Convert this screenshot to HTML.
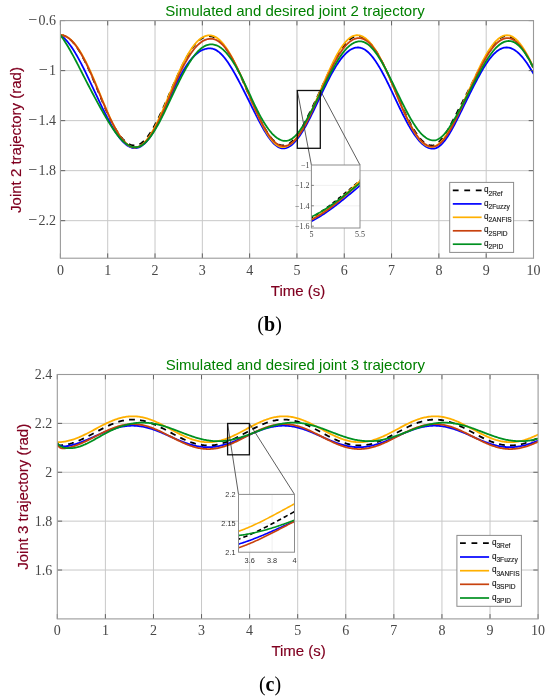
<!DOCTYPE html><html><head><meta charset="utf-8"><style>html,body{margin:0;padding:0;background:#fff;}svg{display:block;}.tk{font-family:"Liberation Serif",serif;font-size:14px;fill:#474747;}.tks{font-family:"Liberation Serif",serif;font-size:8px;fill:#404040;}.tkss{font-family:"Liberation Sans",sans-serif;font-size:7.3px;fill:#333;}.ttl{font-family:"Liberation Sans",sans-serif;font-size:15px;fill:#008000;}.lbl{font-family:"Liberation Sans",sans-serif;font-size:15px;fill:#800020;stroke:#800020;stroke-width:0.15px;}.cap{font-family:"Liberation Serif",serif;font-size:20px;fill:#000;}.lg{font-family:"Liberation Sans",sans-serif;font-size:8.2px;fill:#1a1a1a;stroke:#1a1a1a;stroke-width:0.15px;}.lgs{font-size:6.6px;}</style></head><body><svg width="550" height="700" viewBox="0 0 550 700"><rect width="550" height="700" fill="#fff"/><defs><clipPath id="c1"><rect x="60.40" y="20.60" width="473.10" height="237.60"/></clipPath></defs><path d="M107.71 20.60V258.20M155.02 20.60V258.20M202.33 20.60V258.20M249.64 20.60V258.20M296.95 20.60V258.20M344.26 20.60V258.20M391.57 20.60V258.20M438.88 20.60V258.20M486.19 20.60V258.20M60.40 70.62H533.50M60.40 120.64H533.50M60.40 170.66H533.50M60.40 220.68H533.50" stroke="#c8c8c8" stroke-width="1.0" fill="none"/><g clip-path="url(#c1)" fill="none" stroke-width="1.80" stroke-linejoin="round"><polyline points="60.40,35.11 61.35,35.15 62.29,35.27 63.24,35.47 64.18,35.76 65.13,36.13 66.08,36.58 67.02,37.11 67.97,37.72 68.92,38.42 69.86,39.19 70.81,40.04 71.75,40.98 72.70,41.99 73.65,43.07 74.59,44.23 75.54,45.47 76.49,46.78 77.43,48.15 78.38,49.60 79.32,51.11 80.27,52.69 81.22,54.33 82.16,56.03 83.11,57.79 84.06,59.60 85.00,61.46 85.95,63.37 86.89,65.33 87.84,67.33 88.79,69.38 89.73,71.46 90.68,73.58 91.62,75.74 92.57,77.94 93.52,80.16 94.46,82.41 95.41,84.68 96.36,86.97 97.30,89.27 98.25,91.57 99.19,93.87 100.14,96.17 101.09,98.46 102.03,100.73 102.98,102.98 103.93,105.21 104.87,107.41 105.82,109.57 106.76,111.69 107.71,113.77 108.66,115.80 109.60,117.78 110.55,119.70 111.49,121.57 112.44,123.38 113.39,125.13 114.33,126.82 115.28,128.46 116.23,130.02 117.17,131.53 118.12,132.96 119.06,134.32 120.01,135.61 120.96,136.83 121.90,137.97 122.85,139.04 123.80,140.02 124.74,140.93 125.69,141.76 126.63,142.51 127.58,143.17 128.53,143.75 129.47,144.26 130.42,144.67 131.37,145.01 132.31,145.26 133.26,145.43 134.20,145.52 135.15,145.52 136.10,145.42 137.04,145.23 137.99,144.93 138.93,144.54 139.88,144.05 140.83,143.46 141.77,142.78 142.72,142.01 143.67,141.15 144.61,140.20 145.56,139.17 146.50,138.06 147.45,136.86 148.40,135.59 149.34,134.24 150.29,132.82 151.24,131.32 152.18,129.77 153.13,128.15 154.07,126.47 155.02,124.74 155.97,122.95 156.91,121.11 157.86,119.23 158.80,117.30 159.75,115.34 160.70,113.34 161.64,111.31 162.59,109.26 163.54,107.17 164.48,105.07 165.43,102.95 166.37,100.82 167.32,98.67 168.27,96.52 169.21,94.35 170.16,92.19 171.11,90.03 172.05,87.87 173.00,85.72 173.94,83.58 174.89,81.46 175.84,79.35 176.78,77.25 177.73,75.18 178.68,73.14 179.62,71.12 180.57,69.13 181.51,67.18 182.46,65.27 183.41,63.40 184.35,61.57 185.30,59.78 186.24,58.05 187.19,56.37 188.14,54.74 189.08,53.17 190.03,51.65 190.98,50.20 191.92,48.81 192.87,47.48 193.81,46.22 194.76,45.03 195.71,43.91 196.65,42.85 197.60,41.88 198.55,40.97 199.49,40.14 200.44,39.38 201.38,38.71 202.33,38.11 203.28,37.58 204.22,37.14 205.17,36.77 206.11,36.49 207.06,36.28 208.01,36.15 208.95,36.11 209.90,36.14 210.85,36.25 211.79,36.44 212.74,36.71 213.68,37.06 214.63,37.48 215.58,37.99 216.52,38.58 217.47,39.24 218.42,39.98 219.36,40.79 220.31,41.68 221.25,42.65 222.20,43.69 223.15,44.80 224.09,45.98 225.04,47.23 225.99,48.55 226.93,49.93 227.88,51.38 228.82,52.89 229.77,54.46 230.72,56.09 231.66,57.77 232.61,59.51 233.55,61.30 234.50,63.14 235.45,65.02 236.39,66.95 237.34,68.92 238.29,70.92 239.23,72.96 240.18,75.03 241.12,77.13 242.07,79.25 243.02,81.40 243.96,83.56 244.91,85.73 245.86,87.91 246.80,90.10 247.75,92.30 248.69,94.49 249.64,96.68 250.59,98.87 251.53,101.04 252.48,103.20 253.42,105.34 254.37,107.46 255.32,109.56 256.26,111.63 257.21,113.66 258.16,115.66 259.10,117.62 260.05,119.54 260.99,121.42 261.94,123.24 262.89,125.02 263.83,126.74 264.78,128.40 265.73,129.99 266.67,131.53 267.62,133.00 268.56,134.40 269.51,135.72 270.46,136.97 271.40,138.15 272.35,139.24 273.30,140.26 274.24,141.19 275.19,142.03 276.13,142.79 277.08,143.45 278.03,144.03 278.97,144.51 279.92,144.90 280.86,145.20 281.81,145.40 282.76,145.51 283.70,145.52 284.65,145.42 285.60,145.22 286.54,144.92 287.49,144.52 288.43,144.01 289.38,143.41 290.33,142.72 291.27,141.93 292.22,141.06 293.17,140.09 294.11,139.04 295.06,137.91 296.00,136.71 296.95,135.43 297.90,134.07 298.84,132.65 299.79,131.17 300.73,129.62 301.68,128.02 302.63,126.36 303.57,124.65 304.52,122.89 305.47,121.10 306.41,119.26 307.36,117.40 308.30,115.52 309.25,113.61 310.20,111.69 311.14,109.75 312.09,107.79 313.04,105.83 313.98,103.84 314.93,101.85 315.87,99.85 316.82,97.85 317.77,95.83 318.71,93.81 319.66,91.79 320.61,89.77 321.55,87.74 322.50,85.71 323.44,83.68 324.39,81.66 325.34,79.64 326.28,77.62 327.23,75.61 328.17,73.61 329.12,71.61 330.07,69.63 331.01,67.68 331.96,65.76 332.91,63.87 333.85,62.02 334.80,60.22 335.74,58.45 336.69,56.73 337.64,55.06 338.58,53.45 339.53,51.89 340.48,50.39 341.42,48.94 342.37,47.57 343.31,46.26 344.26,45.02 345.21,43.85 346.15,42.75 347.10,41.73 348.04,40.79 348.99,39.93 349.94,39.16 350.88,38.46 351.83,37.86 352.78,37.34 353.72,36.91 354.67,36.57 355.61,36.32 356.56,36.17 357.51,36.11 358.45,36.14 359.40,36.25 360.35,36.44 361.29,36.72 362.24,37.08 363.18,37.52 364.13,38.04 365.08,38.65 366.02,39.33 366.97,40.09 367.91,40.93 368.86,41.85 369.81,42.84 370.75,43.91 371.70,45.05 372.65,46.27 373.59,47.55 374.54,48.90 375.48,50.32 376.43,51.80 377.38,53.34 378.32,54.94 379.27,56.60 380.22,58.32 381.16,60.08 382.11,61.90 383.05,63.77 384.00,65.67 384.95,67.62 385.89,69.61 386.84,71.64 387.79,73.69 388.73,75.78 389.68,77.89 390.62,80.02 391.57,82.17 392.52,84.33 393.46,86.51 394.41,88.69 395.35,90.88 396.30,93.07 397.25,95.26 398.19,97.44 399.14,99.62 400.09,101.78 401.03,103.92 401.98,106.05 402.92,108.15 403.87,110.22 404.82,112.26 405.76,114.27 406.71,116.25 407.66,118.18 408.60,120.07 409.55,121.92 410.49,123.71 411.44,125.45 412.39,127.14 413.33,128.77 414.28,130.33 415.22,131.84 416.17,133.27 417.12,134.64 418.06,135.93 419.01,137.15 419.96,138.30 420.90,139.37 421.85,140.36 422.79,141.26 423.74,142.09 424.69,142.82 425.63,143.47 426.58,144.04 427.53,144.51 428.47,144.90 429.42,145.19 430.36,145.39 431.31,145.50 432.26,145.52 433.20,145.42 434.15,145.18 435.10,144.82 436.04,144.33 436.99,143.72 437.93,143.00 438.88,142.17 439.83,141.24 440.77,140.20 441.72,139.07 442.66,137.85 443.61,136.54 444.56,135.16 445.50,133.71 446.45,132.19 447.40,130.61 448.34,128.97 449.29,127.29 450.23,125.56 451.18,123.80 452.13,122.00 453.07,120.19 454.02,118.35 454.97,116.52 455.91,114.68 456.86,112.84 457.80,110.99 458.75,109.15 459.70,107.31 460.64,105.48 461.59,103.64 462.54,101.81 463.48,99.97 464.43,98.14 465.37,96.31 466.32,94.47 467.27,92.64 468.21,90.80 469.16,88.95 470.10,87.10 471.05,85.25 472.00,83.39 472.94,81.52 473.89,79.64 474.84,77.76 475.78,75.87 476.73,73.96 477.67,72.06 478.62,70.14 479.57,68.24 480.51,66.36 481.46,64.51 482.41,62.69 483.35,60.90 484.30,59.15 485.24,57.43 486.19,55.76 487.14,54.14 488.08,52.56 489.03,51.04 489.97,49.57 490.92,48.16 491.87,46.82 492.81,45.54 493.76,44.33 494.71,43.19 495.65,42.13 496.60,41.14 497.54,40.24 498.49,39.41 499.44,38.68 500.38,38.03 501.33,37.47 502.28,37.01 503.22,36.63 504.17,36.36 505.11,36.19 506.06,36.11 507.01,36.13 507.95,36.24 508.90,36.44 509.84,36.72 510.79,37.09 511.74,37.55 512.68,38.09 513.63,38.71 514.58,39.42 515.52,40.21 516.47,41.09 517.41,42.04 518.36,43.07 519.31,44.17 520.25,45.35 521.20,46.61 522.15,47.93 523.09,49.32 524.04,50.78 524.98,52.31 525.93,53.89 526.88,55.53 527.82,57.23 528.77,58.99 529.72,60.79 530.66,62.64 531.61,64.54 532.55,66.48 533.50,68.46" stroke="#000" stroke-dasharray="5.8 5.2"/><polyline points="60.40,35.11 61.35,35.76 62.29,36.49 63.24,37.28 64.18,38.15 65.13,39.08 66.08,40.08 67.02,41.14 67.97,42.27 68.92,43.46 69.86,44.71 70.81,46.01 71.75,47.38 72.70,48.79 73.65,50.26 74.59,51.78 75.54,53.35 76.49,54.96 77.43,56.62 78.38,58.32 79.32,60.06 80.27,61.84 81.22,63.65 82.16,65.50 83.11,67.37 84.06,69.27 85.00,71.20 85.95,73.15 86.89,75.11 87.84,77.09 88.79,79.08 89.73,81.07 90.68,83.08 91.62,85.09 92.57,87.11 93.52,89.13 94.46,91.15 95.41,93.16 96.36,95.18 97.30,97.19 98.25,99.19 99.19,101.18 100.14,103.17 101.09,105.14 102.03,107.09 102.98,109.03 103.93,110.95 104.87,112.85 105.82,114.72 106.76,116.58 107.71,118.40 108.66,120.20 109.60,121.96 110.55,123.69 111.49,125.37 112.44,127.01 113.39,128.61 114.33,130.16 115.28,131.66 116.23,133.10 117.17,134.50 118.12,135.83 119.06,137.11 120.01,138.32 120.96,139.48 121.90,140.56 122.85,141.59 123.80,142.54 124.74,143.42 125.69,144.23 126.63,144.97 127.58,145.64 128.53,146.23 129.47,146.74 130.42,147.18 131.37,147.53 132.31,147.81 133.26,148.01 134.20,148.12 135.15,148.15 136.10,148.10 137.04,147.95 137.99,147.71 138.93,147.37 139.88,146.95 140.83,146.44 141.77,145.83 142.72,145.14 143.67,144.37 144.61,143.51 145.56,142.57 146.50,141.55 147.45,140.44 148.40,139.27 149.34,138.02 150.29,136.69 151.24,135.30 152.18,133.85 153.13,132.33 154.07,130.74 155.02,129.11 155.97,127.41 156.91,125.67 157.86,123.88 158.80,122.05 159.75,120.17 160.70,118.25 161.64,116.28 162.59,114.27 163.54,112.23 164.48,110.16 165.43,108.07 166.37,105.95 167.32,103.82 168.27,101.68 169.21,99.54 170.16,97.40 171.11,95.27 172.05,93.15 173.00,91.05 173.94,88.97 174.89,86.92 175.84,84.91 176.78,82.93 177.73,80.99 178.68,79.10 179.62,77.26 180.57,75.48 181.51,73.75 182.46,72.07 183.41,70.46 184.35,68.91 185.30,67.40 186.24,65.94 187.19,64.54 188.14,63.20 189.08,61.91 190.03,60.67 190.98,59.50 191.92,58.38 192.87,57.32 193.81,56.32 194.76,55.39 195.71,54.51 196.65,53.69 197.60,52.93 198.55,52.23 199.49,51.60 200.44,51.02 201.38,50.50 202.33,50.04 203.28,49.64 204.22,49.29 205.17,49.00 206.11,48.77 207.06,48.59 208.01,48.46 208.95,48.39 209.90,48.36 210.85,48.40 211.79,48.53 212.74,48.74 213.68,49.02 214.63,49.39 215.58,49.84 216.52,50.37 217.47,50.98 218.42,51.66 219.36,52.42 220.31,53.25 221.25,54.15 222.20,55.12 223.15,56.16 224.09,57.27 225.04,58.44 225.99,59.67 226.93,60.96 227.88,62.31 228.82,63.71 229.77,65.16 230.72,66.66 231.66,68.21 232.61,69.81 233.55,71.44 234.50,73.11 235.45,74.80 236.39,76.52 237.34,78.26 238.29,80.03 239.23,81.81 240.18,83.62 241.12,85.44 242.07,87.27 243.02,89.12 243.96,90.98 244.91,92.85 245.86,94.73 246.80,96.62 247.75,98.51 248.69,100.41 249.64,102.31 250.59,104.22 251.53,106.12 252.48,108.02 253.42,109.92 254.37,111.81 255.32,113.69 256.26,115.56 257.21,117.42 258.16,119.27 259.10,121.10 260.05,122.90 260.99,124.67 261.94,126.40 262.89,128.09 263.83,129.74 264.78,131.34 265.73,132.89 266.67,134.39 267.62,135.83 268.56,137.21 269.51,138.52 270.46,139.76 271.40,140.94 272.35,142.03 273.30,143.05 274.24,143.99 275.19,144.85 276.13,145.62 277.08,146.30 278.03,146.89 278.97,147.38 279.92,147.78 280.86,148.09 281.81,148.29 282.76,148.39 283.70,148.39 284.65,148.30 285.60,148.13 286.54,147.86 287.49,147.51 288.43,147.07 289.38,146.55 290.33,145.95 291.27,145.26 292.22,144.49 293.17,143.65 294.11,142.72 295.06,141.73 296.00,140.66 296.95,139.51 297.90,138.30 298.84,137.03 299.79,135.68 300.73,134.28 301.68,132.82 302.63,131.30 303.57,129.73 304.52,128.11 305.47,126.45 306.41,124.73 307.36,122.98 308.30,121.19 309.25,119.36 310.20,117.50 311.14,115.61 312.09,113.70 313.04,111.76 313.98,109.81 314.93,107.84 315.87,105.85 316.82,103.86 317.77,101.86 318.71,99.85 319.66,97.85 320.61,95.85 321.55,93.85 322.50,91.87 323.44,89.90 324.39,87.94 325.34,86.00 326.28,84.08 327.23,82.18 328.17,80.31 329.12,78.47 330.07,76.66 331.01,74.89 331.96,73.15 332.91,71.45 333.85,69.80 334.80,68.19 335.74,66.63 336.69,65.11 337.64,63.65 338.58,62.24 339.53,60.89 340.48,59.59 341.42,58.35 342.37,57.17 343.31,56.06 344.26,55.01 345.21,54.02 346.15,53.10 347.10,52.24 348.04,51.46 348.99,50.74 349.94,50.09 350.88,49.52 351.83,49.01 352.78,48.58 353.72,48.22 354.67,47.93 355.61,47.71 356.56,47.57 357.51,47.50 358.45,47.50 359.40,47.58 360.35,47.75 361.29,48.00 362.24,48.33 363.18,48.75 364.13,49.24 365.08,49.82 366.02,50.47 366.97,51.20 367.91,52.01 368.86,52.89 369.81,53.85 370.75,54.88 371.70,55.97 372.65,57.14 373.59,58.36 374.54,59.66 375.48,61.01 376.43,62.42 377.38,63.89 378.32,65.42 379.27,66.99 380.22,68.61 381.16,70.28 382.11,71.99 383.05,73.75 384.00,75.54 384.95,77.36 385.89,79.21 386.84,81.10 387.79,83.01 388.73,84.94 389.68,86.89 390.62,88.86 391.57,90.84 392.52,92.83 393.46,94.82 394.41,96.83 395.35,98.83 396.30,100.83 397.25,102.82 398.19,104.80 399.14,106.78 400.09,108.74 401.03,110.68 401.98,112.60 402.92,114.50 403.87,116.37 404.82,118.21 405.76,120.02 406.71,121.79 407.66,123.53 408.60,125.23 409.55,126.88 410.49,128.49 411.44,130.05 412.39,131.56 413.33,133.02 414.28,134.42 415.22,135.77 416.17,137.06 417.12,138.29 418.06,139.46 419.01,140.56 419.96,141.60 420.90,142.57 421.85,143.48 422.79,144.31 423.74,145.07 424.69,145.77 425.63,146.38 426.58,146.93 427.53,147.40 428.47,147.80 429.42,148.12 430.36,148.37 431.31,148.54 432.26,148.63 433.20,148.65 434.15,148.57 435.10,148.37 436.04,148.07 436.99,147.66 437.93,147.14 438.88,146.52 439.83,145.81 440.77,145.00 441.72,144.09 442.66,143.10 443.61,142.02 444.56,140.85 445.50,139.61 446.45,138.30 447.40,136.91 448.34,135.46 449.29,133.95 450.23,132.37 451.18,130.75 452.13,129.07 453.07,127.35 454.02,125.58 454.97,123.78 455.91,121.94 456.86,120.08 457.80,118.20 458.75,116.30 459.70,114.38 460.64,112.46 461.59,110.53 462.54,108.60 463.48,106.66 464.43,104.72 465.37,102.78 466.32,100.85 467.27,98.92 468.21,96.99 469.16,95.08 470.10,93.17 471.05,91.28 472.00,89.39 472.94,87.53 473.89,85.68 474.84,83.84 475.78,82.02 476.73,80.23 477.67,78.45 478.62,76.70 479.57,74.98 480.51,73.28 481.46,71.61 482.41,69.97 483.35,68.37 484.30,66.82 485.24,65.31 486.19,63.85 487.14,62.44 488.08,61.08 489.03,59.78 489.97,58.54 490.92,57.35 491.87,56.23 492.81,55.17 493.76,54.17 494.71,53.23 495.65,52.36 496.60,51.56 497.54,50.83 498.49,50.17 499.44,49.58 500.38,49.06 501.33,48.62 502.28,48.24 503.22,47.94 504.17,47.72 505.11,47.57 506.06,47.50 507.01,47.50 507.95,47.57 508.90,47.71 509.84,47.92 510.79,48.21 511.74,48.56 512.68,48.98 513.63,49.48 514.58,50.04 515.52,50.67 516.47,51.36 517.41,52.12 518.36,52.95 519.31,53.84 520.25,54.79 521.20,55.81 522.15,56.88 523.09,58.01 524.04,59.19 524.98,60.44 525.93,61.73 526.88,63.08 527.82,64.47 528.77,65.91 529.72,67.40 530.66,68.93 531.61,70.50 532.55,72.11 533.50,73.75" stroke="#0000ff"/><polyline points="60.40,35.11 61.35,35.14 62.29,35.26 63.24,35.44 64.18,35.71 65.13,36.05 66.08,36.46 67.02,36.96 67.97,37.53 68.92,38.18 69.86,38.90 70.81,39.70 71.75,40.57 72.70,41.52 73.65,42.55 74.59,43.64 75.54,44.81 76.49,46.05 77.43,47.37 78.38,48.74 79.32,50.19 80.27,51.70 81.22,53.27 82.16,54.91 83.11,56.60 84.06,58.35 85.00,60.15 85.95,62.01 86.89,63.91 87.84,65.87 88.79,67.86 89.73,69.90 90.68,71.98 91.62,74.09 92.57,76.25 93.52,78.44 94.46,80.67 95.41,82.92 96.36,85.19 97.30,87.48 98.25,89.79 99.19,92.10 100.14,94.42 101.09,96.74 102.03,99.05 102.98,101.35 103.93,103.64 104.87,105.91 105.82,108.15 106.76,110.37 107.71,112.55 108.66,114.69 109.60,116.79 110.55,118.84 111.49,120.84 112.44,122.79 113.39,124.69 114.33,126.53 115.28,128.31 116.23,130.03 117.17,131.68 118.12,133.27 119.06,134.78 120.01,136.22 120.96,137.59 121.90,138.87 122.85,140.08 123.80,141.20 124.74,142.23 125.69,143.18 126.63,144.03 127.58,144.80 128.53,145.47 129.47,146.05 130.42,146.54 131.37,146.93 132.31,147.22 133.26,147.42 134.20,147.52 135.15,147.52 136.10,147.42 137.04,147.22 137.99,146.93 138.93,146.53 139.88,146.05 140.83,145.47 141.77,144.79 142.72,144.02 143.67,143.17 144.61,142.22 145.56,141.18 146.50,140.07 147.45,138.87 148.40,137.58 149.34,136.22 150.29,134.79 151.24,133.28 152.18,131.70 153.13,130.06 154.07,128.35 155.02,126.58 155.97,124.75 156.91,122.87 157.86,120.94 158.80,118.95 159.75,116.92 160.70,114.85 161.64,112.73 162.59,110.58 163.54,108.39 164.48,106.18 165.43,103.95 166.37,101.69 167.32,99.43 168.27,97.15 169.21,94.86 170.16,92.58 171.11,90.30 172.05,88.03 173.00,85.77 173.94,83.52 174.89,81.30 175.84,79.10 176.78,76.93 177.73,74.79 178.68,72.68 179.62,70.62 180.57,68.60 181.51,66.61 182.46,64.67 183.41,62.77 184.35,60.92 185.30,59.12 186.24,57.37 187.19,55.68 188.14,54.04 189.08,52.46 190.03,50.94 190.98,49.49 191.92,48.10 192.87,46.78 193.81,45.52 194.76,44.34 195.71,43.22 196.65,42.18 197.60,41.20 198.55,40.30 199.49,39.48 200.44,38.73 201.38,38.05 202.33,37.45 203.28,36.93 204.22,36.48 205.17,36.11 206.11,35.81 207.06,35.59 208.01,35.44 208.95,35.37 209.90,35.37 210.85,35.45 211.79,35.61 212.74,35.85 213.68,36.17 214.63,36.57 215.58,37.06 216.52,37.62 217.47,38.26 218.42,38.98 219.36,39.78 220.31,40.66 221.25,41.62 222.20,42.65 223.15,43.75 224.09,44.93 225.04,46.18 225.99,47.50 226.93,48.89 227.88,50.35 228.82,51.87 229.77,53.45 230.72,55.09 231.66,56.79 232.61,58.55 233.55,60.36 234.50,62.22 235.45,64.13 236.39,66.08 237.34,68.07 238.29,70.11 239.23,72.18 240.18,74.28 241.12,76.41 242.07,78.57 243.02,80.75 243.96,82.95 244.91,85.17 245.86,87.40 246.80,89.65 247.75,91.90 248.69,94.15 249.64,96.40 250.59,98.65 251.53,100.89 252.48,103.13 253.42,105.34 254.37,107.54 255.32,109.72 256.26,111.87 257.21,113.99 258.16,116.08 259.10,118.13 260.05,120.15 260.99,122.11 261.94,124.03 262.89,125.90 263.83,127.71 264.78,129.46 265.73,131.14 266.67,132.76 267.62,134.31 268.56,135.79 269.51,137.18 270.46,138.50 271.40,139.74 272.35,140.88 273.30,141.94 274.24,142.91 275.19,143.78 276.13,144.56 277.08,145.24 278.03,145.82 278.97,146.30 279.92,146.67 280.86,146.94 281.81,147.10 282.76,147.15 283.70,147.11 284.65,146.97 285.60,146.75 286.54,146.44 287.49,146.04 288.43,145.55 289.38,144.98 290.33,144.32 291.27,143.57 292.22,142.75 293.17,141.84 294.11,140.85 295.06,139.78 296.00,138.64 296.95,137.42 297.90,136.12 298.84,134.76 299.79,133.33 300.73,131.83 301.68,130.26 302.63,128.64 303.57,126.96 304.52,125.22 305.47,123.42 306.41,121.58 307.36,119.69 308.30,117.76 309.25,115.79 310.20,113.78 311.14,111.74 312.09,109.66 313.04,107.56 313.98,105.44 314.93,103.29 315.87,101.13 316.82,98.95 317.77,96.76 318.71,94.56 319.66,92.35 320.61,90.14 321.55,87.93 322.50,85.72 323.44,83.52 324.39,81.33 325.34,79.15 326.28,76.98 327.23,74.84 328.17,72.72 329.12,70.62 330.07,68.55 331.01,66.52 331.96,64.53 332.91,62.58 333.85,60.67 334.80,58.81 335.74,57.00 336.69,55.25 337.64,53.55 338.58,51.91 339.53,50.33 340.48,48.82 341.42,47.38 342.37,46.01 343.31,44.71 344.26,43.49 345.21,42.34 346.15,41.27 347.10,40.29 348.04,39.39 348.99,38.57 349.94,37.84 350.88,37.19 351.83,36.64 352.78,36.18 353.72,35.80 354.67,35.52 355.61,35.34 356.56,35.24 357.51,35.24 358.45,35.32 359.40,35.48 360.35,35.71 361.29,36.03 362.24,36.42 363.18,36.90 364.13,37.45 365.08,38.08 366.02,38.79 366.97,39.58 367.91,40.45 368.86,41.39 369.81,42.40 370.75,43.49 371.70,44.66 372.65,45.89 373.59,47.19 374.54,48.57 375.48,50.01 376.43,51.51 377.38,53.07 378.32,54.70 379.27,56.38 380.22,58.13 381.16,59.92 382.11,61.76 383.05,63.66 384.00,65.60 384.95,67.58 385.89,69.60 386.84,71.65 387.79,73.75 388.73,75.88 389.68,78.04 390.62,80.22 391.57,82.43 392.52,84.66 393.46,86.91 394.41,89.16 395.35,91.43 396.30,93.70 397.25,95.96 398.19,98.22 399.14,100.48 400.09,102.72 401.03,104.94 401.98,107.14 402.92,109.31 403.87,111.46 404.82,113.57 405.76,115.65 406.71,117.68 407.66,119.67 408.60,121.61 409.55,123.49 410.49,125.33 411.44,127.11 412.39,128.83 413.33,130.49 414.28,132.08 415.22,133.61 416.17,135.06 417.12,136.44 418.06,137.74 419.01,138.97 419.96,140.11 420.90,141.17 421.85,142.15 422.79,143.04 423.74,143.84 424.69,144.55 425.63,145.17 426.58,145.70 427.53,146.13 428.47,146.47 429.42,146.71 430.36,146.85 431.31,146.90 432.26,146.85 433.20,146.70 434.15,146.44 435.10,146.08 436.04,145.63 436.99,145.08 437.93,144.43 438.88,143.69 439.83,142.86 440.77,141.94 441.72,140.94 442.66,139.86 443.61,138.70 444.56,137.46 445.50,136.14 446.45,134.76 447.40,133.31 448.34,131.80 449.29,130.22 450.23,128.59 451.18,126.91 452.13,125.17 453.07,123.39 454.02,121.57 454.97,119.71 455.91,117.81 456.86,115.90 457.80,113.96 458.75,112.00 459.70,110.02 460.64,108.03 461.59,106.02 462.54,104.00 463.48,101.97 464.43,99.93 465.37,97.88 466.32,95.83 467.27,93.78 468.21,91.72 469.16,89.66 470.10,87.60 471.05,85.54 472.00,83.49 472.94,81.44 473.89,79.39 474.84,77.36 475.78,75.33 476.73,73.32 477.67,71.32 478.62,69.34 479.57,67.38 480.51,65.46 481.46,63.57 482.41,61.73 483.35,59.92 484.30,58.16 485.24,56.44 486.19,54.78 487.14,53.16 488.08,51.60 489.03,50.10 489.97,48.66 490.92,47.28 491.87,45.96 492.81,44.71 493.76,43.53 494.71,42.42 495.65,41.39 496.60,40.43 497.54,39.54 498.49,38.74 499.44,38.01 500.38,37.37 501.33,36.80 502.28,36.33 503.22,35.93 504.17,35.63 505.11,35.41 506.06,35.28 507.01,35.23 507.95,35.28 508.90,35.41 509.84,35.64 510.79,35.97 511.74,36.38 512.68,36.88 513.63,37.47 514.58,38.15 515.52,38.91 516.47,39.77 517.41,40.70 518.36,41.72 519.31,42.82 520.25,44.00 521.20,45.26 522.15,46.59 523.09,48.00 524.04,49.48 524.98,51.02 525.93,52.64 526.88,54.31 527.82,56.05 528.77,57.84 529.72,59.69 530.66,61.59 531.61,63.54 532.55,65.53 533.50,67.57" stroke="#ffb000"/><polyline points="60.40,35.11 61.35,35.15 62.29,35.27 63.24,35.47 64.18,35.75 65.13,36.11 66.08,36.55 67.02,37.07 67.97,37.67 68.92,38.35 69.86,39.11 70.81,39.95 71.75,40.87 72.70,41.86 73.65,42.93 74.59,44.07 75.54,45.29 76.49,46.57 77.43,47.93 78.38,49.35 79.32,50.84 80.27,52.39 81.22,54.01 82.16,55.69 83.11,57.42 84.06,59.21 85.00,61.05 85.95,62.93 86.89,64.87 87.84,66.85 88.79,68.87 89.73,70.93 90.68,73.03 91.62,75.17 92.57,77.34 93.52,79.54 94.46,81.76 95.41,84.01 96.36,86.27 97.30,88.55 98.25,90.83 99.19,93.12 100.14,95.41 101.09,97.70 102.03,99.97 102.98,102.23 103.93,104.47 104.87,106.69 105.82,108.88 106.76,111.04 107.71,113.16 108.66,115.25 109.60,117.29 110.55,119.28 111.49,121.22 112.44,123.11 113.39,124.95 114.33,126.73 115.28,128.45 116.23,130.11 117.17,131.71 118.12,133.24 119.06,134.70 120.01,136.09 120.96,137.41 121.90,138.65 122.85,139.81 123.80,140.90 124.74,141.90 125.69,142.83 126.63,143.66 127.58,144.42 128.53,145.08 129.47,145.66 130.42,146.16 131.37,146.56 132.31,146.87 133.26,147.10 134.20,147.23 135.15,147.28 136.10,147.23 137.04,147.09 137.99,146.86 138.93,146.53 139.88,146.11 140.83,145.61 141.77,145.01 142.72,144.32 143.67,143.55 144.61,142.68 145.56,141.74 146.50,140.71 147.45,139.60 148.40,138.41 149.34,137.15 150.29,135.81 151.24,134.40 152.18,132.92 153.13,131.37 154.07,129.76 155.02,128.08 155.97,126.35 156.91,124.56 157.86,122.72 158.80,120.83 159.75,118.89 160.70,116.91 161.64,114.87 162.59,112.80 163.54,110.68 164.48,108.54 165.43,106.36 166.37,104.16 167.32,101.95 168.27,99.72 169.21,97.48 170.16,95.24 171.11,93.01 172.05,90.78 173.00,88.56 173.94,86.35 174.89,84.17 175.84,82.02 176.78,79.89 177.73,77.80 178.68,75.75 179.62,73.74 180.57,71.78 181.51,69.86 182.46,67.99 183.41,66.15 184.35,64.37 185.30,62.63 186.24,60.94 187.19,59.30 188.14,57.72 189.08,56.19 190.03,54.72 190.98,53.31 191.92,51.96 192.87,50.67 193.81,49.45 194.76,48.28 195.71,47.19 196.65,46.15 197.60,45.19 198.55,44.29 199.49,43.46 200.44,42.69 201.38,42.00 202.33,41.37 203.28,40.81 204.22,40.32 205.17,39.89 206.11,39.54 207.06,39.24 208.01,39.02 208.95,38.86 209.90,38.76 210.85,38.73 211.79,38.77 212.74,38.89 213.68,39.09 214.63,39.37 215.58,39.72 216.52,40.16 217.47,40.67 218.42,41.27 219.36,41.94 220.31,42.70 221.25,43.52 222.20,44.43 223.15,45.41 224.09,46.47 225.04,47.60 225.99,48.80 226.93,50.07 227.88,51.42 228.82,52.82 229.77,54.30 230.72,55.84 231.66,57.43 232.61,59.09 233.55,60.80 234.50,62.57 235.45,64.39 236.39,66.26 237.34,68.17 238.29,70.13 239.23,72.12 240.18,74.16 241.12,76.24 242.07,78.35 243.02,80.49 243.96,82.65 244.91,84.84 245.86,87.05 246.80,89.27 247.75,91.50 248.69,93.74 249.64,95.97 250.59,98.21 251.53,100.43 252.48,102.65 253.42,104.84 254.37,107.02 255.32,109.17 256.26,111.29 257.21,113.38 258.16,115.43 259.10,117.43 260.05,119.39 260.99,121.31 261.94,123.17 262.89,124.98 263.83,126.73 264.78,128.42 265.73,130.05 266.67,131.62 267.62,133.12 268.56,134.55 269.51,135.90 270.46,137.18 271.40,138.39 272.35,139.51 273.30,140.55 274.24,141.51 275.19,142.38 276.13,143.16 277.08,143.86 278.03,144.46 278.97,144.98 279.92,145.40 280.86,145.73 281.81,145.96 282.76,146.11 283.70,146.15 284.65,146.11 285.60,145.97 286.54,145.75 287.49,145.44 288.43,145.05 289.38,144.56 290.33,143.99 291.27,143.34 292.22,142.60 293.17,141.78 294.11,140.88 295.06,139.90 296.00,138.84 296.95,137.71 297.90,136.51 298.84,135.23 299.79,133.88 300.73,132.47 301.68,130.99 302.63,129.45 303.57,127.85 304.52,126.20 305.47,124.49 306.41,122.73 307.36,120.92 308.30,119.06 309.25,117.16 310.20,115.23 311.14,113.25 312.09,111.24 313.04,109.20 313.98,107.14 314.93,105.05 315.87,102.94 316.82,100.81 317.77,98.68 318.71,96.53 319.66,94.38 320.61,92.23 321.55,90.08 322.50,87.93 323.44,85.80 324.39,83.68 325.34,81.57 326.28,79.48 327.23,77.42 328.17,75.38 329.12,73.38 330.07,71.40 331.01,69.46 331.96,67.56 332.91,65.70 333.85,63.87 334.80,62.10 335.74,60.37 336.69,58.69 337.64,57.07 338.58,55.49 339.53,53.98 340.48,52.52 341.42,51.13 342.37,49.80 343.31,48.53 344.26,47.33 345.21,46.20 346.15,45.14 347.10,44.15 348.04,43.23 348.99,42.38 349.94,41.61 350.88,40.92 351.83,40.30 352.78,39.75 353.72,39.28 354.67,38.90 355.61,38.58 356.56,38.35 357.51,38.19 358.45,38.12 359.40,38.12 360.35,38.20 361.29,38.37 362.24,38.61 363.18,38.95 364.13,39.36 365.08,39.86 366.02,40.44 366.97,41.10 367.91,41.85 368.86,42.67 369.81,43.58 370.75,44.56 371.70,45.62 372.65,46.76 373.59,47.97 374.54,49.26 375.48,50.61 376.43,52.04 377.38,53.53 378.32,55.09 379.27,56.71 380.22,58.40 381.16,60.14 382.11,61.93 383.05,63.78 384.00,65.68 384.95,67.62 385.89,69.61 386.84,71.64 387.79,73.72 388.73,75.84 389.68,77.99 390.62,80.18 391.57,82.40 392.52,84.64 393.46,86.90 394.41,89.18 395.35,91.46 396.30,93.75 397.25,96.03 398.19,98.31 399.14,100.58 400.09,102.82 401.03,105.05 401.98,107.25 402.92,109.41 403.87,111.54 404.82,113.63 405.76,115.67 406.71,117.66 407.66,119.60 408.60,121.48 409.55,123.31 410.49,125.09 411.44,126.80 412.39,128.46 413.33,130.06 414.28,131.59 415.22,133.06 416.17,134.46 417.12,135.79 418.06,137.05 419.01,138.24 419.96,139.35 420.90,140.38 421.85,141.34 422.79,142.22 423.74,143.03 424.69,143.75 425.63,144.39 426.58,144.96 427.53,145.44 428.47,145.84 429.42,146.16 430.36,146.40 431.31,146.56 432.26,146.64 433.20,146.64 434.15,146.53 435.10,146.31 436.04,145.98 436.99,145.54 437.93,145.00 438.88,144.36 439.83,143.62 440.77,142.78 441.72,141.85 442.66,140.84 443.61,139.73 444.56,138.55 445.50,137.28 446.45,135.94 447.40,134.53 448.34,133.05 449.29,131.50 450.23,129.90 451.18,128.23 452.13,126.52 453.07,124.76 454.02,122.95 454.97,121.11 455.91,119.23 456.86,117.33 457.80,115.40 458.75,113.45 459.70,111.49 460.64,109.51 461.59,107.52 462.54,105.52 463.48,103.51 464.43,101.50 465.37,99.48 466.32,97.46 467.27,95.43 468.21,93.41 469.16,91.39 470.10,89.37 471.05,87.35 472.00,85.34 472.94,83.34 473.89,81.35 474.84,79.37 475.78,77.40 476.73,75.44 477.67,73.50 478.62,71.58 479.57,69.67 480.51,67.80 481.46,65.96 482.41,64.16 483.35,62.41 484.30,60.69 485.24,59.02 486.19,57.40 487.14,55.83 488.08,54.31 489.03,52.85 489.97,51.45 490.92,50.11 491.87,48.83 492.81,47.61 493.76,46.46 494.71,45.38 495.65,44.36 496.60,43.42 497.54,42.55 498.49,41.76 499.44,41.04 500.38,40.39 501.33,39.83 502.28,39.34 503.22,38.94 504.17,38.61 505.11,38.36 506.06,38.20 507.01,38.12 507.95,38.12 508.90,38.21 509.84,38.38 510.79,38.64 511.74,38.99 512.68,39.42 513.63,39.94 514.58,40.54 515.52,41.22 516.47,41.99 517.41,42.84 518.36,43.77 519.31,44.77 520.25,45.86 521.20,47.01 522.15,48.24 523.09,49.54 524.04,50.91 524.98,52.35 525.93,53.85 526.88,55.41 527.82,57.03 528.77,58.71 529.72,60.44 530.66,62.23 531.61,64.06 532.55,65.94 533.50,67.86" stroke="#c8420e"/><polyline points="60.40,35.11 61.35,36.38 62.29,37.71 63.24,39.08 64.18,40.50 65.13,41.96 66.08,43.46 67.02,45.00 67.97,46.57 68.92,48.18 69.86,49.82 70.81,51.49 71.75,53.19 72.70,54.92 73.65,56.67 74.59,58.44 75.54,60.23 76.49,62.04 77.43,63.86 78.38,65.70 79.32,67.55 80.27,69.41 81.22,71.27 82.16,73.14 83.11,75.00 84.06,76.85 85.00,78.70 85.95,80.55 86.89,82.39 87.84,84.22 88.79,86.04 89.73,87.86 90.68,89.67 91.62,91.47 92.57,93.26 93.52,95.04 94.46,96.82 95.41,98.58 96.36,100.34 97.30,102.08 98.25,103.82 99.19,105.54 100.14,107.26 101.09,108.96 102.03,110.65 102.98,112.33 103.93,113.99 104.87,115.64 105.82,117.27 106.76,118.89 107.71,120.48 108.66,122.06 109.60,123.60 110.55,125.11 111.49,126.59 112.44,128.03 113.39,129.44 114.33,130.80 115.28,132.12 116.23,133.40 117.17,134.64 118.12,135.82 119.06,136.96 120.01,138.05 120.96,139.08 121.90,140.06 122.85,140.99 123.80,141.85 124.74,142.66 125.69,143.41 126.63,144.10 127.58,144.72 128.53,145.28 129.47,145.77 130.42,146.19 131.37,146.55 132.31,146.83 133.26,147.05 134.20,147.20 135.15,147.27 136.10,147.27 137.04,147.18 137.99,146.99 138.93,146.72 139.88,146.36 140.83,145.92 141.77,145.38 142.72,144.76 143.67,144.06 144.61,143.28 145.56,142.41 146.50,141.47 147.45,140.46 148.40,139.37 149.34,138.20 150.29,136.97 151.24,135.67 152.18,134.31 153.13,132.89 154.07,131.41 155.02,129.87 155.97,128.28 156.91,126.64 157.86,124.95 158.80,123.22 159.75,121.45 160.70,119.64 161.64,117.80 162.59,115.93 163.54,114.02 164.48,112.10 165.43,110.15 166.37,108.18 167.32,106.20 168.27,104.21 169.21,102.21 170.16,100.20 171.11,98.19 172.05,96.18 173.00,94.17 173.94,92.16 174.89,90.17 175.84,88.19 176.78,86.22 177.73,84.27 178.68,82.33 179.62,80.43 180.57,78.54 181.51,76.69 182.46,74.86 183.41,73.07 184.35,71.31 185.30,69.59 186.24,67.92 187.19,66.28 188.14,64.69 189.08,63.15 190.03,61.66 190.98,60.22 191.92,58.83 192.87,57.50 193.81,56.22 194.76,55.00 195.71,53.85 196.65,52.75 197.60,51.72 198.55,50.75 199.49,49.85 200.44,49.01 201.38,48.24 202.33,47.54 203.28,46.91 204.22,46.34 205.17,45.85 206.11,45.43 207.06,45.07 208.01,44.79 208.95,44.58 209.90,44.44 210.85,44.37 211.79,44.37 212.74,44.44 213.68,44.57 214.63,44.77 215.58,45.04 216.52,45.38 217.47,45.79 218.42,46.26 219.36,46.81 220.31,47.42 221.25,48.10 222.20,48.84 223.15,49.66 224.09,50.54 225.04,51.49 225.99,52.50 226.93,53.57 227.88,54.71 228.82,55.91 229.77,57.16 230.72,58.48 231.66,59.85 232.61,61.28 233.55,62.76 234.50,64.29 235.45,65.87 236.39,67.50 237.34,69.17 238.29,70.88 239.23,72.64 240.18,74.44 241.12,76.29 242.07,78.18 243.02,80.10 243.96,82.05 244.91,84.03 245.86,86.03 246.80,88.05 247.75,90.09 248.69,92.13 249.64,94.18 250.59,96.22 251.53,98.26 252.48,100.29 253.42,102.31 254.37,104.30 255.32,106.27 256.26,108.21 257.21,110.12 258.16,111.99 259.10,113.82 260.05,115.60 260.99,117.33 261.94,119.01 262.89,120.64 263.83,122.22 264.78,123.74 265.73,125.21 266.67,126.62 267.62,127.97 268.56,129.26 269.51,130.49 270.46,131.66 271.40,132.77 272.35,133.80 273.30,134.77 274.24,135.67 275.19,136.50 276.13,137.27 277.08,137.96 278.03,138.57 278.97,139.12 279.92,139.59 280.86,139.99 281.81,140.32 282.76,140.57 283.70,140.76 284.65,140.86 285.60,140.90 286.54,140.85 287.49,140.70 288.43,140.45 289.38,140.11 290.33,139.67 291.27,139.13 292.22,138.51 293.17,137.80 294.11,137.00 295.06,136.12 296.00,135.15 296.95,134.11 297.90,133.00 298.84,131.81 299.79,130.56 300.73,129.23 301.68,127.85 302.63,126.41 303.57,124.92 304.52,123.37 305.47,121.78 306.41,120.15 307.36,118.47 308.30,116.77 309.25,115.03 310.20,113.27 311.14,111.47 312.09,109.66 313.04,107.83 313.98,105.98 314.93,104.11 315.87,102.24 316.82,100.35 317.77,98.45 318.71,96.55 319.66,94.65 320.61,92.74 321.55,90.83 322.50,88.93 323.44,87.03 324.39,85.13 325.34,83.24 326.28,81.37 327.23,79.51 328.17,77.66 329.12,75.82 330.07,74.01 331.01,72.22 331.96,70.45 332.91,68.70 333.85,67.00 334.80,65.32 335.74,63.69 336.69,62.10 337.64,60.56 338.58,59.06 339.53,57.61 340.48,56.20 341.42,54.86 342.37,53.56 343.31,52.33 344.26,51.15 345.21,50.03 346.15,48.98 347.10,47.98 348.04,47.06 348.99,46.19 349.94,45.40 350.88,44.67 351.83,44.02 352.78,43.43 353.72,42.92 354.67,42.48 355.61,42.11 356.56,41.81 357.51,41.59 358.45,41.44 359.40,41.37 360.35,41.37 361.29,41.45 362.24,41.62 363.18,41.88 364.13,42.21 365.08,42.63 366.02,43.14 366.97,43.72 367.91,44.38 368.86,45.12 369.81,45.93 370.75,46.82 371.70,47.79 372.65,48.82 373.59,49.93 374.54,51.10 375.48,52.34 376.43,53.63 377.38,55.00 378.32,56.41 379.27,57.89 380.22,59.41 381.16,60.99 382.11,62.62 383.05,64.29 384.00,66.00 384.95,67.75 385.89,69.53 386.84,71.35 387.79,73.20 388.73,75.07 389.68,76.96 390.62,78.88 391.57,80.80 392.52,82.75 393.46,84.70 394.41,86.66 395.35,88.62 396.30,90.58 397.25,92.55 398.19,94.51 399.14,96.46 400.09,98.41 401.03,100.34 401.98,102.25 402.92,104.15 403.87,106.03 404.82,107.89 405.76,109.72 406.71,111.52 407.66,113.29 408.60,115.02 409.55,116.72 410.49,118.39 411.44,120.01 412.39,121.58 413.33,123.11 414.28,124.59 415.22,126.01 416.17,127.38 417.12,128.69 418.06,129.94 419.01,131.12 419.96,132.25 420.90,133.30 421.85,134.29 422.79,135.21 423.74,136.06 424.69,136.84 425.63,137.54 426.58,138.17 427.53,138.72 428.47,139.20 429.42,139.59 430.36,139.91 431.31,140.15 432.26,140.31 433.20,140.39 434.15,140.39 435.10,140.28 436.04,140.07 436.99,139.75 437.93,139.33 438.88,138.81 439.83,138.20 440.77,137.49 441.72,136.69 442.66,135.81 443.61,134.84 444.56,133.79 445.50,132.67 446.45,131.48 447.40,130.22 448.34,128.90 449.29,127.53 450.23,126.09 451.18,124.61 452.13,123.09 453.07,121.52 454.02,119.92 454.97,118.29 455.91,116.63 456.86,114.95 457.80,113.26 458.75,111.54 459.70,109.82 460.64,108.08 461.59,106.32 462.54,104.56 463.48,102.79 464.43,101.02 465.37,99.23 466.32,97.45 467.27,95.66 468.21,93.87 469.16,92.07 470.10,90.28 471.05,88.49 472.00,86.69 472.94,84.90 473.89,83.12 474.84,81.33 475.78,79.56 476.73,77.79 477.67,76.02 478.62,74.27 479.57,72.53 480.51,70.79 481.46,69.08 482.41,67.40 483.35,65.74 484.30,64.13 485.24,62.54 486.19,61.00 487.14,59.50 488.08,58.04 489.03,56.63 489.97,55.27 490.92,53.95 491.87,52.69 492.81,51.49 493.76,50.34 494.71,49.25 495.65,48.22 496.60,47.25 497.54,46.35 498.49,45.51 499.44,44.74 500.38,44.04 501.33,43.40 502.28,42.84 503.22,42.35 504.17,41.94 505.11,41.60 506.06,41.33 507.01,41.14 507.95,41.02 508.90,40.98 509.84,41.03 510.79,41.16 511.74,41.38 512.68,41.68 513.63,42.07 514.58,42.55 515.52,43.11 516.47,43.75 517.41,44.47 518.36,45.28 519.31,46.17 520.25,47.13 521.20,48.17 522.15,49.29 523.09,50.48 524.04,51.74 524.98,53.06 525.93,54.46 526.88,55.91 527.82,57.43 528.77,59.01 529.72,60.64 530.66,62.32 531.61,64.06 532.55,65.84 533.50,67.66" stroke="#009020"/></g><path d="M60.40 258.20v-4.8M60.40 20.60v4.8M107.71 258.20v-4.8M107.71 20.60v4.8M155.02 258.20v-4.8M155.02 20.60v4.8M202.33 258.20v-4.8M202.33 20.60v4.8M249.64 258.20v-4.8M249.64 20.60v4.8M296.95 258.20v-4.8M296.95 20.60v4.8M344.26 258.20v-4.8M344.26 20.60v4.8M391.57 258.20v-4.8M391.57 20.60v4.8M438.88 258.20v-4.8M438.88 20.60v4.8M486.19 258.20v-4.8M486.19 20.60v4.8M533.50 258.20v-4.8M533.50 20.60v4.8M60.40 20.60h4.8M533.50 20.60h-4.8M60.40 70.62h4.8M533.50 70.62h-4.8M60.40 120.64h4.8M533.50 120.64h-4.8M60.40 170.66h4.8M533.50 170.66h-4.8M60.40 220.68h4.8M533.50 220.68h-4.8" stroke="#555" stroke-width="0.9" fill="none"/><rect x="60.40" y="20.60" width="473.10" height="237.60" stroke="#9a9a9a" stroke-width="1.1" fill="none"/><text class="tk" x="60.40" y="274.60" text-anchor="middle">0</text><text class="tk" x="107.71" y="274.60" text-anchor="middle">1</text><text class="tk" x="155.02" y="274.60" text-anchor="middle">2</text><text class="tk" x="202.33" y="274.60" text-anchor="middle">3</text><text class="tk" x="249.64" y="274.60" text-anchor="middle">4</text><text class="tk" x="296.95" y="274.60" text-anchor="middle">5</text><text class="tk" x="344.26" y="274.60" text-anchor="middle">6</text><text class="tk" x="391.57" y="274.60" text-anchor="middle">7</text><text class="tk" x="438.88" y="274.60" text-anchor="middle">8</text><text class="tk" x="486.19" y="274.60" text-anchor="middle">9</text><text class="tk" x="533.50" y="274.60" text-anchor="middle">10</text><text class="tk" x="56.10" y="25.20" text-anchor="end"><tspan font-size="16">−</tspan><tspan dx="1.2">0.6</tspan></text><text class="tk" x="56.10" y="75.22" text-anchor="end"><tspan font-size="16">−</tspan><tspan dx="1.2">1</tspan></text><text class="tk" x="56.10" y="125.24" text-anchor="end"><tspan font-size="16">−</tspan><tspan dx="1.2">1.4</tspan></text><text class="tk" x="56.10" y="175.26" text-anchor="end"><tspan font-size="16">−</tspan><tspan dx="1.2">1.8</tspan></text><text class="tk" x="56.10" y="225.28" text-anchor="end"><tspan font-size="16">−</tspan><tspan dx="1.2">2.2</tspan></text><text class="ttl" x="295.00" y="15.60" text-anchor="middle">Simulated and desired joint 2 trajectory</text><text class="lbl" x="298.00" y="295.80" text-anchor="middle">Time (s)</text><text class="lbl" transform="translate(21.40 140.00) rotate(-90)" text-anchor="middle">Joint 2 trajectory (rad)</text><text class="cap" x="269.60" y="331.00" text-anchor="middle">(<tspan font-weight="bold">b</tspan>)</text><path d="M297.30 90.50L311.40 165.00M320.30 90.50L360.00 165.00" stroke="#333" stroke-width="0.8" fill="none"/><rect x="297.30" y="90.50" width="23.00" height="57.80" stroke="#111" stroke-width="1.3" fill="none"/><defs><clipPath id="i1"><rect x="311.40" y="165.00" width="48.60" height="63.00"/></clipPath></defs><rect x="311.40" y="165.00" width="48.60" height="63.00" fill="#fff"/><path d="M311.40 185.40H360.00M311.40 205.81H360.00" stroke="#ececec" stroke-width="0.8" fill="none"/><g clip-path="url(#i1)" fill="none" stroke-width="1.70"><polyline points="309.46,218.92 310.33,218.45 311.21,217.98 312.08,217.49 312.96,216.99 313.83,216.48 314.70,215.96 315.58,215.43 316.45,214.89 317.33,214.33 318.20,213.77 319.08,213.20 319.95,212.62 320.83,212.02 321.70,211.42 322.58,210.81 323.45,210.20 324.33,209.57 325.20,208.94 326.08,208.30 326.95,207.65 327.83,206.99 328.70,206.33 329.58,205.66 330.45,204.99 331.33,204.31 332.20,203.63 333.08,202.94 333.95,202.25 334.83,201.55 335.70,200.86 336.57,200.15 337.45,199.45 338.32,198.74 339.20,198.03 340.07,197.32 340.95,196.61 341.82,195.89 342.70,195.17 343.57,194.45 344.45,193.72 345.32,193.00 346.20,192.27 347.07,191.54 347.95,190.81 348.82,190.07 349.70,189.34 350.57,188.60 351.45,187.87 352.32,187.13 353.20,186.39 354.07,185.65 354.95,184.91 355.82,184.17 356.70,183.43 357.57,182.68 358.44,181.94 359.32,181.20 360.19,180.45 361.07,179.71 361.94,178.97" stroke="#000" stroke-dasharray="4 3"/><polyline points="309.46,222.14 310.33,221.73 311.21,221.30 312.08,220.87 312.96,220.42 313.83,219.96 314.70,219.49 315.58,219.02 316.45,218.53 317.33,218.03 318.20,217.52 319.08,217.00 319.95,216.47 320.83,215.93 321.70,215.38 322.58,214.82 323.45,214.26 324.33,213.68 325.20,213.10 326.08,212.51 326.95,211.91 327.83,211.30 328.70,210.68 329.58,210.06 330.45,209.43 331.33,208.79 332.20,208.15 333.08,207.50 333.95,206.84 334.83,206.18 335.70,205.51 336.57,204.84 337.45,204.16 338.32,203.48 339.20,202.79 340.07,202.09 340.95,201.39 341.82,200.69 342.70,199.99 343.57,199.28 344.45,198.56 345.32,197.85 346.20,197.13 347.07,196.41 347.95,195.68 348.82,194.96 349.70,194.23 350.57,193.50 351.45,192.77 352.32,192.03 353.20,191.30 354.07,190.57 354.95,189.83 355.82,189.09 356.70,188.36 357.57,187.62 358.44,186.89 359.32,186.15 360.19,185.42 361.07,184.69 361.94,183.96" stroke="#0000ff"/><polyline points="309.46,220.49 310.33,220.05 311.21,219.60 312.08,219.13 312.96,218.65 313.83,218.17 314.70,217.67 315.58,217.15 316.45,216.63 317.33,216.10 318.20,215.55 319.08,215.00 319.95,214.43 320.83,213.85 321.70,213.27 322.58,212.67 323.45,212.06 324.33,211.45 325.20,210.82 326.08,210.19 326.95,209.54 327.83,208.89 328.70,208.23 329.58,207.56 330.45,206.88 331.33,206.19 332.20,205.50 333.08,204.80 333.95,204.09 334.83,203.38 335.70,202.66 336.57,201.93 337.45,201.20 338.32,200.46 339.20,199.71 340.07,198.96 340.95,198.21 341.82,197.45 342.70,196.68 343.57,195.91 344.45,195.14 345.32,194.36 346.20,193.58 347.07,192.80 347.95,192.01 348.82,191.22 349.70,190.42 350.57,189.62 351.45,188.82 352.32,188.02 353.20,187.22 354.07,186.41 354.95,185.61 355.82,184.80 356.70,183.99 357.57,183.18 358.44,182.37 359.32,181.55 360.19,180.74 361.07,179.93 361.94,179.12" stroke="#ffb000"/><polyline points="309.46,220.66 310.33,220.25 311.21,219.83 312.08,219.40 312.96,218.95 313.83,218.50 314.70,218.03 315.58,217.55 316.45,217.06 317.33,216.56 318.20,216.04 319.08,215.52 319.95,214.98 320.83,214.44 321.70,213.88 322.58,213.32 323.45,212.74 324.33,212.15 325.20,211.56 326.08,210.96 326.95,210.34 327.83,209.72 328.70,209.09 329.58,208.45 330.45,207.80 331.33,207.14 332.20,206.48 333.08,205.81 333.95,205.13 334.83,204.44 335.70,203.75 336.57,203.05 337.45,202.34 338.32,201.63 339.20,200.91 340.07,200.18 340.95,199.45 341.82,198.72 342.70,197.97 343.57,197.23 344.45,196.48 345.32,195.72 346.20,194.96 347.07,194.20 347.95,193.43 348.82,192.66 349.70,191.88 350.57,191.11 351.45,190.33 352.32,189.55 353.20,188.76 354.07,187.98 354.95,187.19 355.82,186.40 356.70,185.61 357.57,184.82 358.44,184.03 359.32,183.24 360.19,182.45 361.07,181.66 361.94,180.88" stroke="#c8420e"/><polyline points="309.46,217.65 310.33,217.27 311.21,216.89 312.08,216.49 312.96,216.08 313.83,215.65 314.70,215.22 315.58,214.77 316.45,214.31 317.33,213.84 318.20,213.37 319.08,212.88 319.95,212.38 320.83,211.86 321.70,211.35 322.58,210.82 323.45,210.28 324.33,209.73 325.20,209.18 326.08,208.61 326.95,208.04 327.83,207.46 328.70,206.87 329.58,206.28 330.45,205.68 331.33,205.07 332.20,204.45 333.08,203.83 333.95,203.21 334.83,202.58 335.70,201.94 336.57,201.30 337.45,200.66 338.32,200.01 339.20,199.36 340.07,198.70 340.95,198.04 341.82,197.37 342.70,196.70 343.57,196.03 344.45,195.36 345.32,194.68 346.20,194.00 347.07,193.32 347.95,192.63 348.82,191.94 349.70,191.25 350.57,190.56 351.45,189.87 352.32,189.18 353.20,188.48 354.07,187.78 354.95,187.09 355.82,186.39 356.70,185.69 357.57,184.99 358.44,184.29 359.32,183.59 360.19,182.89 361.07,182.19 361.94,181.49" stroke="#009020"/></g><rect x="311.40" y="165.00" width="48.60" height="63.00" stroke="#8c8c8c" stroke-width="1" fill="none"/><path d="M311.40 185.40h2.5M311.40 205.81h2.5M311.40 226.21h2.5" stroke="#666" stroke-width="0.8" fill="none"/><text class="tks" x="309.40" y="167.80" text-anchor="end">−1</text><text class="tks" x="309.40" y="188.20" text-anchor="end">−1.2</text><text class="tks" x="309.40" y="208.61" text-anchor="end">−1.4</text><text class="tks" x="309.40" y="229.01" text-anchor="end">−1.6</text><text class="tks" x="311.40" y="237.00" text-anchor="middle">5</text><text class="tks" x="360.00" y="237.00" text-anchor="middle">5.5</text><rect x="449.70" y="182.40" width="63.90" height="70.00" stroke="#8c8c8c" stroke-width="1" fill="#fff"/><path d="M452.80 190.40H481.60" stroke="#000" stroke-width="1.7" stroke-dasharray="5.8 5.7"/><text class="lg" x="484.00" y="192.00">q<tspan class="lgs" dy="3.5">2Ref</tspan></text><path d="M452.80 203.90H481.60" stroke="#0000ff" stroke-width="1.7"/><text class="lg" x="484.00" y="205.50">q<tspan class="lgs" dy="3.5">2Fuzzy</tspan></text><path d="M452.80 217.30H481.60" stroke="#ffb000" stroke-width="1.7"/><text class="lg" x="484.00" y="218.90">q<tspan class="lgs" dy="3.5">2ANFIS</tspan></text><path d="M452.80 230.80H481.60" stroke="#c8420e" stroke-width="1.7"/><text class="lg" x="484.00" y="232.40">q<tspan class="lgs" dy="3.5">2SPID</tspan></text><path d="M452.80 244.20H481.60" stroke="#009020" stroke-width="1.7"/><text class="lg" x="484.00" y="245.80">q<tspan class="lgs" dy="3.5">2PID</tspan></text><defs><clipPath id="c2"><rect x="57.30" y="374.50" width="480.80" height="244.40"/></clipPath></defs><path d="M105.38 374.50V618.90M153.46 374.50V618.90M201.54 374.50V618.90M249.62 374.50V618.90M297.70 374.50V618.90M345.78 374.50V618.90M393.86 374.50V618.90M441.94 374.50V618.90M490.02 374.50V618.90M57.30 423.38H538.10M57.30 472.26H538.10M57.30 521.14H538.10M57.30 570.02H538.10" stroke="#c8c8c8" stroke-width="1.0" fill="none"/><g clip-path="url(#c2)" fill="none" stroke-width="1.80" stroke-linejoin="round"><polyline points="57.30,445.50 58.26,445.49 59.22,445.46 60.18,445.41 61.15,445.33 62.11,445.24 63.07,445.13 64.03,444.99 64.99,444.84 65.95,444.67 66.92,444.48 67.88,444.26 68.84,444.03 69.80,443.79 70.76,443.52 71.72,443.24 72.69,442.93 73.65,442.62 74.61,442.28 75.57,441.93 76.53,441.57 77.49,441.19 78.46,440.80 79.42,440.39 80.38,439.97 81.34,439.54 82.30,439.10 83.26,438.65 84.22,438.19 85.19,437.72 86.15,437.24 87.11,436.75 88.07,436.26 89.03,435.76 89.99,435.26 90.96,434.75 91.92,434.23 92.88,433.72 93.84,433.20 94.80,432.68 95.76,432.17 96.73,431.65 97.69,431.13 98.65,430.62 99.61,430.11 100.57,429.60 101.53,429.10 102.50,428.60 103.46,428.11 104.42,427.63 105.38,427.15 106.34,426.69 107.30,426.23 108.26,425.78 109.23,425.35 110.19,424.92 111.15,424.51 112.11,424.11 113.07,423.72 114.03,423.35 115.00,422.99 115.96,422.65 116.92,422.32 117.88,422.01 118.84,421.72 119.80,421.45 120.77,421.19 121.73,420.95 122.69,420.73 123.65,420.52 124.61,420.34 125.57,420.18 126.54,420.03 127.50,419.91 128.46,419.80 129.42,419.72 130.38,419.66 131.34,419.62 132.30,419.59 133.27,419.59 134.23,419.61 135.19,419.65 136.15,419.72 137.11,419.80 138.07,419.90 139.04,420.02 140.00,420.16 140.96,420.33 141.92,420.51 142.88,420.71 143.84,420.93 144.81,421.17 145.77,421.42 146.73,421.70 147.69,421.99 148.65,422.30 149.61,422.62 150.58,422.97 151.54,423.32 152.50,423.69 153.46,424.08 154.42,424.48 155.38,424.89 156.34,425.31 157.31,425.75 158.27,426.19 159.23,426.65 160.19,427.12 161.15,427.59 162.11,428.07 163.08,428.56 164.04,429.06 165.00,429.56 165.96,430.07 166.92,430.58 167.88,431.09 168.85,431.61 169.81,432.13 170.77,432.64 171.73,433.16 172.69,433.68 173.65,434.19 174.62,434.71 175.58,435.21 176.54,435.72 177.50,436.22 178.46,436.71 179.42,437.20 180.38,437.68 181.35,438.15 182.31,438.61 183.27,439.07 184.23,439.51 185.19,439.94 186.15,440.36 187.12,440.77 188.08,441.16 189.04,441.54 190.00,441.91 190.96,442.26 191.92,442.59 192.89,442.91 193.85,443.21 194.81,443.50 195.77,443.77 196.73,444.02 197.69,444.25 198.66,444.46 199.62,444.65 200.58,444.83 201.54,444.98 202.50,445.12 203.46,445.23 204.42,445.33 205.39,445.40 206.35,445.45 207.31,445.49 208.27,445.50 209.23,445.49 210.19,445.46 211.16,445.41 212.12,445.34 213.08,445.25 214.04,445.14 215.00,445.01 215.96,444.85 216.93,444.68 217.89,444.49 218.85,444.28 219.81,444.05 220.77,443.81 221.73,443.54 222.70,443.26 223.66,442.96 224.62,442.64 225.58,442.31 226.54,441.96 227.50,441.60 228.46,441.22 229.43,440.83 230.39,440.43 231.35,440.01 232.31,439.58 233.27,439.14 234.23,438.69 235.20,438.23 236.16,437.76 237.12,437.28 238.08,436.79 239.04,436.30 240.00,435.80 240.97,435.30 241.93,434.79 242.89,434.28 243.85,433.76 244.81,433.24 245.77,432.73 246.74,432.21 247.70,431.69 248.66,431.17 249.62,430.66 250.58,430.15 251.54,429.64 252.50,429.14 253.47,428.64 254.43,428.15 255.39,427.67 256.35,427.19 257.31,426.72 258.27,426.27 259.24,425.82 260.20,425.38 261.16,424.96 262.12,424.54 263.08,424.14 264.04,423.75 265.01,423.38 265.97,423.02 266.93,422.68 267.89,422.35 268.85,422.04 269.81,421.74 270.78,421.47 271.74,421.21 272.70,420.97 273.66,420.74 274.62,420.54 275.58,420.35 276.54,420.19 277.51,420.04 278.47,419.92 279.43,419.81 280.39,419.73 281.35,419.66 282.31,419.62 283.28,419.60 284.24,419.59 285.20,419.61 286.16,419.65 287.12,419.71 288.08,419.79 289.05,419.89 290.01,420.01 290.97,420.15 291.93,420.31 292.89,420.49 293.85,420.69 294.82,420.91 295.78,421.15 296.74,421.40 297.70,421.68 298.66,421.97 299.62,422.27 300.58,422.60 301.55,422.94 302.51,423.29 303.47,423.66 304.43,424.05 305.39,424.44 306.35,424.86 307.32,425.28 308.28,425.71 309.24,426.16 310.20,426.61 311.16,427.08 312.12,427.55 313.09,428.04 314.05,428.52 315.01,429.02 315.97,429.52 316.93,430.03 317.89,430.54 318.86,431.05 319.82,431.57 320.78,432.08 321.74,432.60 322.70,433.12 323.66,433.64 324.62,434.15 325.59,434.67 326.55,435.17 327.51,435.68 328.47,436.18 329.43,436.67 330.39,437.16 331.36,437.64 332.32,438.11 333.28,438.58 334.24,439.03 335.20,439.47 336.16,439.91 337.13,440.33 338.09,440.73 339.05,441.13 340.01,441.51 340.97,441.88 341.93,442.23 342.90,442.56 343.86,442.89 344.82,443.19 345.78,443.48 346.74,443.74 347.70,444.00 348.66,444.23 349.63,444.44 350.59,444.64 351.55,444.81 352.51,444.97 353.47,445.11 354.43,445.22 355.40,445.32 356.36,445.39 357.32,445.45 358.28,445.48 359.24,445.50 360.20,445.49 361.17,445.46 362.13,445.41 363.09,445.35 364.05,445.26 365.01,445.15 365.97,445.02 366.94,444.87 367.90,444.70 368.86,444.51 369.82,444.30 370.78,444.07 371.74,443.83 372.70,443.56 373.67,443.28 374.63,442.98 375.59,442.67 376.55,442.34 377.51,441.99 378.47,441.63 379.44,441.25 380.40,440.86 381.36,440.46 382.32,440.04 383.28,439.61 384.24,439.17 385.21,438.72 386.17,438.26 387.13,437.79 388.09,437.32 389.05,436.83 390.01,436.34 390.98,435.84 391.94,435.34 392.90,434.83 393.86,434.32 394.82,433.80 395.78,433.29 396.74,432.77 397.71,432.25 398.67,431.73 399.63,431.22 400.59,430.70 401.55,430.19 402.51,429.68 403.48,429.18 404.44,428.68 405.40,428.19 406.36,427.71 407.32,427.23 408.28,426.76 409.25,426.30 410.21,425.85 411.17,425.42 412.13,424.99 413.09,424.57 414.05,424.17 415.02,423.78 415.98,423.41 416.94,423.05 417.90,422.70 418.86,422.38 419.82,422.06 420.78,421.77 421.75,421.49 422.71,421.23 423.67,420.98 424.63,420.76 425.59,420.55 426.55,420.37 427.52,420.20 428.48,420.05 429.44,419.93 430.40,419.82 431.36,419.73 432.32,419.67 433.29,419.62 434.25,419.60 435.21,419.59 436.17,419.61 437.13,419.65 438.09,419.70 439.06,419.78 440.02,419.88 440.98,420.00 441.94,420.14 442.90,420.30 443.86,420.48 444.82,420.68 445.79,420.89 446.75,421.13 447.71,421.38 448.67,421.65 449.63,421.94 450.59,422.25 451.56,422.57 452.52,422.91 453.48,423.26 454.44,423.63 455.40,424.02 456.36,424.41 457.33,424.82 458.29,425.24 459.25,425.68 460.21,426.12 461.17,426.58 462.13,427.04 463.10,427.52 464.06,428.00 465.02,428.49 465.98,428.98 466.94,429.48 467.90,429.99 468.86,430.50 469.83,431.01 470.79,431.53 471.75,432.04 472.71,432.56 473.67,433.08 474.63,433.60 475.60,434.11 476.56,434.62 477.52,435.13 478.48,435.64 479.44,436.14 480.40,436.63 481.37,437.12 482.33,437.60 483.29,438.08 484.25,438.54 485.21,439.00 486.17,439.44 487.14,439.87 488.10,440.29 489.06,440.70 490.02,441.10 490.98,441.48 491.94,441.85 492.90,442.20 493.87,442.54 494.83,442.86 495.79,443.17 496.75,443.45 497.71,443.72 498.67,443.98 499.64,444.21 500.60,444.43 501.56,444.62 502.52,444.80 503.48,444.96 504.44,445.10 505.41,445.21 506.37,445.31 507.33,445.39 508.29,445.45 509.25,445.48 510.21,445.50 511.18,445.49 512.14,445.47 513.10,445.42 514.06,445.35 515.02,445.26 515.98,445.16 516.94,445.03 517.91,444.88 518.87,444.71 519.83,444.52 520.79,444.32 521.75,444.09 522.71,443.85 523.68,443.58 524.64,443.31 525.60,443.01 526.56,442.69 527.52,442.36 528.48,442.02 529.45,441.66 530.41,441.28 531.37,440.89 532.33,440.49 533.29,440.07 534.25,439.65 535.22,439.21 536.18,438.76 537.14,438.30 538.10,437.83" stroke="#000" stroke-dasharray="5.8 5.2"/><polyline points="57.30,443.42 58.26,444.48 59.22,445.21 60.18,445.71 61.15,446.04 62.11,446.23 63.07,446.34 64.03,446.36 64.99,446.33 65.95,446.25 66.92,446.14 67.88,445.99 68.84,445.82 69.80,445.63 70.76,445.41 71.72,445.18 72.69,444.93 73.65,444.67 74.61,444.39 75.57,444.09 76.53,443.79 77.49,443.47 78.46,443.14 79.42,442.80 80.38,442.44 81.34,442.08 82.30,441.71 83.26,441.33 84.22,440.95 85.19,440.55 86.15,440.15 87.11,439.74 88.07,439.33 89.03,438.92 89.99,438.49 90.96,438.07 91.92,437.64 92.88,437.22 93.84,436.79 94.80,436.36 95.76,435.93 96.73,435.50 97.69,435.07 98.65,434.64 99.61,434.22 100.57,433.80 101.53,433.39 102.50,432.98 103.46,432.57 104.42,432.18 105.38,431.79 106.34,431.40 107.30,431.03 108.26,430.66 109.23,430.30 110.19,429.95 111.15,429.62 112.11,429.29 113.07,428.98 114.03,428.67 115.00,428.38 115.96,428.10 116.92,427.84 117.88,427.59 118.84,427.35 119.80,427.13 120.77,426.92 121.73,426.73 122.69,426.56 123.65,426.40 124.61,426.25 125.57,426.13 126.54,426.01 127.50,425.92 128.46,425.84 129.42,425.78 130.38,425.74 131.34,425.71 132.30,425.70 133.27,425.71 134.23,425.73 135.19,425.78 136.15,425.84 137.11,425.91 138.07,426.01 139.04,426.12 140.00,426.24 140.96,426.39 141.92,426.54 142.88,426.72 143.84,426.91 144.81,427.11 145.77,427.34 146.73,427.57 147.69,427.82 148.65,428.08 149.61,428.36 150.58,428.65 151.54,428.95 152.50,429.27 153.46,429.59 154.42,429.93 155.38,430.27 156.34,430.63 157.31,431.00 158.27,431.37 159.23,431.75 160.19,432.15 161.15,432.54 162.11,432.95 163.08,433.36 164.04,433.77 165.00,434.19 165.96,434.61 166.92,435.04 167.88,435.46 168.85,435.89 169.81,436.32 170.77,436.75 171.73,437.18 172.69,437.61 173.65,438.04 174.62,438.46 175.58,438.88 176.54,439.30 177.50,439.71 178.46,440.12 179.42,440.52 180.38,440.91 181.35,441.30 182.31,441.68 183.27,442.05 184.23,442.42 185.19,442.77 186.15,443.11 187.12,443.45 188.08,443.77 189.04,444.08 190.00,444.37 190.96,444.66 191.92,444.93 192.89,445.19 193.85,445.43 194.81,445.66 195.77,445.88 196.73,446.08 197.69,446.26 198.66,446.43 199.62,446.58 200.58,446.72 201.54,446.84 202.50,446.94 203.46,447.03 204.42,447.10 205.39,447.15 206.35,447.19 207.31,447.21 208.27,447.21 209.23,447.19 210.19,447.16 211.16,447.11 212.12,447.04 213.08,446.96 214.04,446.86 215.00,446.74 215.96,446.60 216.93,446.45 217.89,446.29 218.85,446.11 219.81,445.91 220.77,445.70 221.73,445.47 222.70,445.23 223.66,444.97 224.62,444.70 225.58,444.42 226.54,444.12 227.50,443.82 228.46,443.50 229.43,443.17 230.39,442.83 231.35,442.47 232.31,442.11 233.27,441.74 234.23,441.36 235.20,440.98 236.16,440.58 237.12,440.18 238.08,439.78 239.04,439.36 240.00,438.95 240.97,438.53 241.93,438.10 242.89,437.68 243.85,437.25 244.81,436.82 245.77,436.39 246.74,435.96 247.70,435.53 248.66,435.10 249.62,434.68 250.58,434.26 251.54,433.84 252.50,433.42 253.47,433.01 254.43,432.61 255.39,432.21 256.35,431.82 257.31,431.43 258.27,431.06 259.24,430.69 260.20,430.33 261.16,429.98 262.12,429.64 263.08,429.32 264.04,429.00 265.01,428.70 265.97,428.40 266.93,428.13 267.89,427.86 268.85,427.61 269.81,427.37 270.78,427.15 271.74,426.94 272.70,426.75 273.66,426.57 274.62,426.41 275.58,426.26 276.54,426.13 277.51,426.02 278.47,425.93 279.43,425.85 280.39,425.79 281.35,425.74 282.31,425.71 283.28,425.70 284.24,425.71 285.20,425.73 286.16,425.77 287.12,425.83 288.08,425.91 289.05,426.00 290.01,426.11 290.97,426.23 291.93,426.37 292.89,426.53 293.85,426.70 294.82,426.89 295.78,427.10 296.74,427.32 297.70,427.55 298.66,427.80 299.62,428.06 300.58,428.34 301.55,428.63 302.51,428.93 303.47,429.24 304.43,429.56 305.39,429.90 306.35,430.25 307.32,430.60 308.28,430.97 309.24,431.34 310.20,431.72 311.16,432.11 312.12,432.51 313.09,432.91 314.05,433.32 315.01,433.74 315.97,434.16 316.93,434.58 317.89,435.00 318.86,435.43 319.82,435.86 320.78,436.29 321.74,436.72 322.70,437.15 323.66,437.58 324.62,438.00 325.59,438.43 326.55,438.85 327.51,439.27 328.47,439.68 329.43,440.09 330.39,440.49 331.36,440.88 332.32,441.27 333.28,441.65 334.24,442.02 335.20,442.39 336.16,442.74 337.13,443.09 338.09,443.42 339.05,443.74 340.01,444.05 340.97,444.35 341.93,444.64 342.90,444.91 343.86,445.17 344.82,445.41 345.78,445.64 346.74,445.86 347.70,446.06 348.66,446.25 349.63,446.42 350.59,446.57 351.55,446.71 352.51,446.83 353.47,446.93 354.43,447.02 355.40,447.09 356.36,447.15 357.32,447.19 358.28,447.21 359.24,447.21 360.20,447.19 361.17,447.16 362.13,447.11 363.09,447.05 364.05,446.96 365.01,446.86 365.97,446.75 366.94,446.62 367.90,446.47 368.86,446.30 369.82,446.12 370.78,445.93 371.74,445.71 372.70,445.49 373.67,445.25 374.63,444.99 375.59,444.72 376.55,444.44 377.51,444.15 378.47,443.84 379.44,443.52 380.40,443.19 381.36,442.85 382.32,442.50 383.28,442.14 384.24,441.77 385.21,441.39 386.17,441.01 387.13,440.61 388.09,440.22 389.05,439.81 390.01,439.40 390.98,438.98 391.94,438.56 392.90,438.14 393.86,437.71 394.82,437.28 395.78,436.85 396.74,436.42 397.71,435.99 398.67,435.57 399.63,435.14 400.59,434.71 401.55,434.29 402.51,433.87 403.48,433.45 404.44,433.04 405.40,432.64 406.36,432.24 407.32,431.85 408.28,431.46 409.25,431.09 410.21,430.72 411.17,430.36 412.13,430.01 413.09,429.67 414.05,429.34 415.02,429.02 415.98,428.72 416.94,428.43 417.90,428.15 418.86,427.88 419.82,427.63 420.78,427.39 421.75,427.17 422.71,426.96 423.67,426.76 424.63,426.58 425.59,426.42 426.55,426.27 427.52,426.14 428.48,426.03 429.44,425.93 430.40,425.85 431.36,425.79 432.32,425.74 433.29,425.71 434.25,425.70 435.21,425.71 436.17,425.73 437.13,425.77 438.09,425.83 439.06,425.90 440.02,425.99 440.98,426.10 441.94,426.22 442.90,426.36 443.86,426.52 444.82,426.69 445.79,426.88 446.75,427.08 447.71,427.30 448.67,427.53 449.63,427.78 450.59,428.04 451.56,428.31 452.52,428.60 453.48,428.90 454.44,429.21 455.40,429.54 456.36,429.87 457.33,430.22 458.29,430.57 459.25,430.94 460.21,431.31 461.17,431.69 462.13,432.08 463.10,432.48 464.06,432.88 465.02,433.29 465.98,433.70 466.94,434.12 467.90,434.54 468.86,434.97 469.83,435.40 470.79,435.82 471.75,436.25 472.71,436.68 473.67,437.11 474.63,437.54 475.60,437.97 476.56,438.39 477.52,438.82 478.48,439.23 479.44,439.65 480.40,440.05 481.37,440.46 482.33,440.85 483.29,441.24 484.25,441.62 485.21,442.00 486.17,442.36 487.14,442.71 488.10,443.06 489.06,443.39 490.02,443.72 490.98,444.03 491.94,444.33 492.90,444.61 493.87,444.89 494.83,445.15 495.79,445.39 496.75,445.63 497.71,445.84 498.67,446.05 499.64,446.23 500.60,446.40 501.56,446.56 502.52,446.70 503.48,446.82 504.44,446.93 505.41,447.02 506.37,447.09 507.33,447.14 508.29,447.18 509.25,447.20 510.21,447.21 511.18,447.20 512.14,447.17 513.10,447.12 514.06,447.05 515.02,446.97 515.98,446.87 516.94,446.76 517.91,446.63 518.87,446.48 519.83,446.32 520.79,446.14 521.75,445.94 522.71,445.73 523.68,445.51 524.64,445.27 525.60,445.01 526.56,444.75 527.52,444.47 528.48,444.17 529.45,443.87 530.41,443.55 531.37,443.22 532.33,442.88 533.29,442.53 534.25,442.17 535.22,441.80 536.18,441.42 537.14,441.04 538.10,440.65" stroke="#0000ff"/><polyline points="57.30,442.20 58.26,442.19 59.22,442.16 60.18,442.11 61.15,442.03 62.11,441.94 63.07,441.83 64.03,441.69 64.99,441.54 65.95,441.37 66.92,441.18 67.88,440.97 68.84,440.74 69.80,440.49 70.76,440.22 71.72,439.94 72.69,439.64 73.65,439.32 74.61,438.98 75.57,438.63 76.53,438.27 77.49,437.89 78.46,437.50 79.42,437.09 80.38,436.67 81.34,436.24 82.30,435.80 83.26,435.35 84.22,434.89 85.19,434.42 86.15,433.94 87.11,433.45 88.07,432.96 89.03,432.46 89.99,431.96 90.96,431.45 91.92,430.94 92.88,430.42 93.84,429.90 94.80,429.39 95.76,428.87 96.73,428.35 97.69,427.83 98.65,427.32 99.61,426.81 100.57,426.30 101.53,425.80 102.50,425.30 103.46,424.81 104.42,424.33 105.38,423.86 106.34,423.39 107.30,422.93 108.26,422.48 109.23,422.05 110.19,421.62 111.15,421.21 112.11,420.81 113.07,420.42 114.03,420.05 115.00,419.69 115.96,419.35 116.92,419.03 117.88,418.72 118.84,418.42 119.80,418.15 120.77,417.89 121.73,417.65 122.69,417.43 123.65,417.22 124.61,417.04 125.57,416.88 126.54,416.73 127.50,416.61 128.46,416.51 129.42,416.42 130.38,416.36 131.34,416.32 132.30,416.30 133.27,416.29 134.23,416.31 135.19,416.36 136.15,416.42 137.11,416.50 138.07,416.60 139.04,416.72 140.00,416.86 140.96,417.03 141.92,417.21 142.88,417.41 143.84,417.63 144.81,417.87 145.77,418.12 146.73,418.40 147.69,418.69 148.65,419.00 149.61,419.33 150.58,419.67 151.54,420.02 152.50,420.39 153.46,420.78 154.42,421.18 155.38,421.59 156.34,422.01 157.31,422.45 158.27,422.90 159.23,423.35 160.19,423.82 161.15,424.29 162.11,424.77 163.08,425.26 164.04,425.76 165.00,426.26 165.96,426.77 166.92,427.28 167.88,427.79 168.85,428.31 169.81,428.83 170.77,429.34 171.73,429.86 172.69,430.38 173.65,430.89 174.62,431.41 175.58,431.92 176.54,432.42 177.50,432.92 178.46,433.41 179.42,433.90 180.38,434.38 181.35,434.85 182.31,435.31 183.27,435.77 184.23,436.21 185.19,436.64 186.15,437.06 187.12,437.47 188.08,437.86 189.04,438.24 190.00,438.61 190.96,438.96 191.92,439.29 192.89,439.61 193.85,439.91 194.81,440.20 195.77,440.47 196.73,440.72 197.69,440.95 198.66,441.16 199.62,441.35 200.58,441.53 201.54,441.68 202.50,441.82 203.46,441.93 204.42,442.03 205.39,442.10 206.35,442.15 207.31,442.19 208.27,442.20 209.23,442.19 210.19,442.16 211.16,442.11 212.12,442.04 213.08,441.95 214.04,441.84 215.00,441.71 215.96,441.55 216.93,441.38 217.89,441.19 218.85,440.98 219.81,440.75 220.77,440.51 221.73,440.24 222.70,439.96 223.66,439.66 224.62,439.34 225.58,439.01 226.54,438.66 227.50,438.30 228.46,437.92 229.43,437.53 230.39,437.13 231.35,436.71 232.31,436.28 233.27,435.84 234.23,435.39 235.20,434.93 236.16,434.46 237.12,433.98 238.08,433.49 239.04,433.00 240.00,432.50 240.97,432.00 241.93,431.49 242.89,430.98 243.85,430.46 244.81,429.94 245.77,429.43 246.74,428.91 247.70,428.39 248.66,427.87 249.62,427.36 250.58,426.85 251.54,426.34 252.50,425.84 253.47,425.34 254.43,424.85 255.39,424.37 256.35,423.89 257.31,423.43 258.27,422.97 259.24,422.52 260.20,422.08 261.16,421.66 262.12,421.24 263.08,420.84 264.04,420.45 265.01,420.08 265.97,419.72 266.93,419.38 267.89,419.05 268.85,418.74 269.81,418.44 270.78,418.17 271.74,417.91 272.70,417.67 273.66,417.44 274.62,417.24 275.58,417.05 276.54,416.89 277.51,416.74 278.47,416.62 279.43,416.51 280.39,416.43 281.35,416.36 282.31,416.32 283.28,416.30 284.24,416.29 285.20,416.31 286.16,416.35 287.12,416.41 288.08,416.49 289.05,416.59 290.01,416.71 290.97,416.85 291.93,417.01 292.89,417.19 293.85,417.39 294.82,417.61 295.78,417.85 296.74,418.10 297.70,418.38 298.66,418.67 299.62,418.97 300.58,419.30 301.55,419.64 302.51,419.99 303.47,420.36 304.43,420.75 305.39,421.15 306.35,421.56 307.32,421.98 308.28,422.41 309.24,422.86 310.20,423.31 311.16,423.78 312.12,424.25 313.09,424.74 314.05,425.23 315.01,425.72 315.97,426.22 316.93,426.73 317.89,427.24 318.86,427.75 319.82,428.27 320.78,428.78 321.74,429.30 322.70,429.82 323.66,430.34 324.62,430.85 325.59,431.37 326.55,431.88 327.51,432.38 328.47,432.88 329.43,433.37 330.39,433.86 331.36,434.34 332.32,434.81 333.28,435.28 334.24,435.73 335.20,436.17 336.16,436.61 337.13,437.03 338.09,437.43 339.05,437.83 340.01,438.21 340.97,438.58 341.93,438.93 342.90,439.27 343.86,439.59 344.82,439.89 345.78,440.18 346.74,440.45 347.70,440.70 348.66,440.93 349.63,441.14 350.59,441.34 351.55,441.52 352.51,441.67 353.47,441.81 354.43,441.92 355.40,442.02 356.36,442.10 357.32,442.15 358.28,442.18 359.24,442.20 360.20,442.19 361.17,442.16 362.13,442.12 363.09,442.05 364.05,441.96 365.01,441.85 365.97,441.72 366.94,441.57 367.90,441.40 368.86,441.21 369.82,441.00 370.78,440.77 371.74,440.53 372.70,440.26 373.67,439.98 374.63,439.68 375.59,439.37 376.55,439.04 377.51,438.69 378.47,438.33 379.44,437.95 380.40,437.56 381.36,437.16 382.32,436.74 383.28,436.31 384.24,435.87 385.21,435.42 386.17,434.96 387.13,434.49 388.09,434.02 389.05,433.53 390.01,433.04 390.98,432.54 391.94,432.04 392.90,431.53 393.86,431.02 394.82,430.50 395.78,429.99 396.74,429.47 397.71,428.95 398.67,428.43 399.63,427.92 400.59,427.40 401.55,426.89 402.51,426.38 403.48,425.88 404.44,425.38 405.40,424.89 406.36,424.41 407.32,423.93 408.28,423.46 409.25,423.00 410.21,422.55 411.17,422.12 412.13,421.69 413.09,421.27 414.05,420.87 415.02,420.48 415.98,420.11 416.94,419.75 417.90,419.41 418.86,419.08 419.82,418.76 420.78,418.47 421.75,418.19 422.71,417.93 423.67,417.69 424.63,417.46 425.59,417.26 426.55,417.07 427.52,416.90 428.48,416.75 429.44,416.63 430.40,416.52 431.36,416.43 432.32,416.37 433.29,416.32 434.25,416.30 435.21,416.29 436.17,416.31 437.13,416.35 438.09,416.41 439.06,416.48 440.02,416.58 440.98,416.70 441.94,416.84 442.90,417.00 443.86,417.18 444.82,417.38 445.79,417.59 446.75,417.83 447.71,418.08 448.67,418.35 449.63,418.64 450.59,418.95 451.56,419.27 452.52,419.61 453.48,419.96 454.44,420.33 455.40,420.72 456.36,421.11 457.33,421.52 458.29,421.94 459.25,422.38 460.21,422.82 461.17,423.28 462.13,423.74 463.10,424.22 464.06,424.70 465.02,425.19 465.98,425.68 466.94,426.18 467.90,426.69 468.86,427.20 469.83,427.71 470.79,428.23 471.75,428.74 472.71,429.26 473.67,429.78 474.63,430.30 475.60,430.81 476.56,431.33 477.52,431.83 478.48,432.34 479.44,432.84 480.40,433.34 481.37,433.82 482.33,434.30 483.29,434.78 484.25,435.24 485.21,435.70 486.17,436.14 487.14,436.57 488.10,436.99 489.06,437.40 490.02,437.80 490.98,438.18 491.94,438.55 492.90,438.90 493.87,439.24 494.83,439.56 495.79,439.87 496.75,440.15 497.71,440.42 498.67,440.68 499.64,440.91 500.60,441.13 501.56,441.32 502.52,441.50 503.48,441.66 504.44,441.80 505.41,441.92 506.37,442.01 507.33,442.09 508.29,442.15 509.25,442.18 510.21,442.20 511.18,442.19 512.14,442.17 513.10,442.12 514.06,442.05 515.02,441.96 515.98,441.86 516.94,441.73 517.91,441.58 518.87,441.41 519.83,441.22 520.79,441.02 521.75,440.79 522.71,440.55 523.68,440.29 524.64,440.01 525.60,439.71 526.56,439.40 527.52,439.07 528.48,438.72 529.45,438.36 530.41,437.98 531.37,437.59 532.33,437.19 533.29,436.78 534.25,436.35 535.22,435.91 536.18,435.46 537.14,435.00 538.10,434.53" stroke="#ffb000"/><polyline points="57.30,443.42 58.26,445.62 59.22,446.93 60.18,447.70 61.15,448.12 62.11,448.33 63.07,448.40 64.03,448.39 64.99,448.31 65.95,448.18 66.92,448.02 67.88,447.83 68.84,447.62 69.80,447.39 70.76,447.13 71.72,446.86 72.69,446.57 73.65,446.27 74.61,445.95 75.57,445.61 76.53,445.26 77.49,444.90 78.46,444.52 79.42,444.13 80.38,443.73 81.34,443.31 82.30,442.89 83.26,442.45 84.22,442.01 85.19,441.56 86.15,441.09 87.11,440.63 88.07,440.15 89.03,439.67 89.99,439.19 90.96,438.70 91.92,438.20 92.88,437.71 93.84,437.21 94.80,436.71 95.76,436.21 96.73,435.72 97.69,435.22 98.65,434.72 99.61,434.23 100.57,433.75 101.53,433.26 102.50,432.78 103.46,432.31 104.42,431.85 105.38,431.39 106.34,430.94 107.30,430.50 108.26,430.07 109.23,429.65 110.19,429.24 111.15,428.85 112.11,428.46 113.07,428.09 114.03,427.73 115.00,427.39 115.96,427.06 116.92,426.74 117.88,426.44 118.84,426.16 119.80,425.90 120.77,425.65 121.73,425.42 122.69,425.20 123.65,425.01 124.61,424.83 125.57,424.68 126.54,424.54 127.50,424.42 128.46,424.32 129.42,424.24 130.38,424.18 131.34,424.14 132.30,424.12 133.27,424.12 134.23,424.13 135.19,424.17 136.15,424.23 137.11,424.31 138.07,424.41 139.04,424.53 140.00,424.66 140.96,424.82 141.92,425.00 142.88,425.19 143.84,425.40 144.81,425.63 145.77,425.88 146.73,426.14 147.69,426.42 148.65,426.72 149.61,427.03 150.58,427.36 151.54,427.70 152.50,428.06 153.46,428.43 154.42,428.81 155.38,429.21 156.34,429.62 157.31,430.04 158.27,430.47 159.23,430.91 160.19,431.35 161.15,431.81 162.11,432.28 163.08,432.75 164.04,433.22 165.00,433.71 165.96,434.19 166.92,434.69 167.88,435.18 168.85,435.68 169.81,436.17 170.77,436.67 171.73,437.17 172.69,437.67 173.65,438.16 174.62,438.66 175.58,439.15 176.54,439.63 177.50,440.11 178.46,440.59 179.42,441.06 180.38,441.52 181.35,441.97 182.31,442.42 183.27,442.85 184.23,443.28 185.19,443.69 186.15,444.10 187.12,444.49 188.08,444.87 189.04,445.23 190.00,445.58 190.96,445.92 191.92,446.24 192.89,446.55 193.85,446.84 194.81,447.12 195.77,447.37 196.73,447.62 197.69,447.84 198.66,448.04 199.62,448.23 200.58,448.40 201.54,448.55 202.50,448.68 203.46,448.79 204.42,448.88 205.39,448.95 206.35,449.00 207.31,449.03 208.27,449.04 209.23,449.03 210.19,449.01 211.16,448.96 212.12,448.89 213.08,448.80 214.04,448.69 215.00,448.57 215.96,448.42 216.93,448.26 217.89,448.07 218.85,447.87 219.81,447.65 220.77,447.41 221.73,447.16 222.70,446.89 223.66,446.60 224.62,446.29 225.58,445.97 226.54,445.64 227.50,445.29 228.46,444.93 229.43,444.55 230.39,444.16 231.35,443.76 232.31,443.35 233.27,442.92 234.23,442.49 235.20,442.04 236.16,441.59 237.12,441.13 238.08,440.66 239.04,440.19 240.00,439.71 240.97,439.22 241.93,438.74 242.89,438.24 243.85,437.75 244.81,437.25 245.77,436.75 246.74,436.25 247.70,435.76 248.66,435.26 249.62,434.76 250.58,434.27 251.54,433.78 252.50,433.30 253.47,432.82 254.43,432.35 255.39,431.88 256.35,431.43 257.31,430.98 258.27,430.54 259.24,430.10 260.20,429.68 261.16,429.27 262.12,428.88 263.08,428.49 264.04,428.12 265.01,427.76 265.97,427.41 266.93,427.08 267.89,426.77 268.85,426.47 269.81,426.18 270.78,425.92 271.74,425.67 272.70,425.44 273.66,425.22 274.62,425.02 275.58,424.85 276.54,424.69 277.51,424.55 278.47,424.43 279.43,424.33 280.39,424.24 281.35,424.18 282.31,424.14 283.28,424.12 284.24,424.11 285.20,424.13 286.16,424.17 287.12,424.23 288.08,424.30 289.05,424.40 290.01,424.52 290.97,424.65 291.93,424.81 292.89,424.98 293.85,425.17 294.82,425.38 295.78,425.61 296.74,425.86 297.70,426.12 298.66,426.40 299.62,426.69 300.58,427.01 301.55,427.33 302.51,427.67 303.47,428.03 304.43,428.40 305.39,428.78 306.35,429.18 307.32,429.59 308.28,430.00 309.24,430.43 310.20,430.87 311.16,431.32 312.12,431.77 313.09,432.24 314.05,432.71 315.01,433.19 315.97,433.67 316.93,434.16 317.89,434.65 318.86,435.14 319.82,435.64 320.78,436.13 321.74,436.63 322.70,437.13 323.66,437.63 324.62,438.12 325.59,438.62 326.55,439.11 327.51,439.59 328.47,440.08 329.43,440.55 330.39,441.02 331.36,441.48 332.32,441.94 333.28,442.38 334.24,442.82 335.20,443.25 336.16,443.66 337.13,444.07 338.09,444.46 339.05,444.84 340.01,445.20 340.97,445.56 341.93,445.90 342.90,446.22 343.86,446.53 344.82,446.82 345.78,447.10 346.74,447.35 347.70,447.60 348.66,447.82 349.63,448.03 350.59,448.21 351.55,448.38 352.51,448.53 353.47,448.67 354.43,448.78 355.40,448.87 356.36,448.94 357.32,449.00 358.28,449.03 359.24,449.04 360.20,449.03 361.17,449.01 362.13,448.96 363.09,448.90 364.05,448.81 365.01,448.70 365.97,448.58 366.94,448.43 367.90,448.27 368.86,448.09 369.82,447.89 370.78,447.67 371.74,447.43 372.70,447.18 373.67,446.91 374.63,446.62 375.59,446.32 376.55,446.00 377.51,445.67 378.47,445.32 379.44,444.96 380.40,444.58 381.36,444.19 382.32,443.79 383.28,443.38 384.24,442.96 385.21,442.52 386.17,442.08 387.13,441.63 388.09,441.17 389.05,440.70 390.01,440.23 390.98,439.75 391.94,439.26 392.90,438.77 393.86,438.28 394.82,437.79 395.78,437.29 396.74,436.79 397.71,436.29 398.67,435.79 399.63,435.30 400.59,434.80 401.55,434.31 402.51,433.82 403.48,433.34 404.44,432.86 405.40,432.39 406.36,431.92 407.32,431.46 408.28,431.01 409.25,430.57 410.21,430.14 411.17,429.72 412.13,429.31 413.09,428.91 414.05,428.52 415.02,428.15 415.98,427.79 416.94,427.44 417.90,427.11 418.86,426.79 419.82,426.49 420.78,426.21 421.75,425.94 422.71,425.69 423.67,425.45 424.63,425.24 425.59,425.04 426.55,424.86 427.52,424.70 428.48,424.56 429.44,424.44 430.40,424.33 431.36,424.25 432.32,424.19 433.29,424.14 434.25,424.12 435.21,424.11 436.17,424.13 437.13,424.17 438.09,424.22 439.06,424.30 440.02,424.39 440.98,424.51 441.94,424.64 442.90,424.79 443.86,424.97 444.82,425.16 445.79,425.37 446.75,425.59 447.71,425.84 448.67,426.10 449.63,426.38 450.59,426.67 451.56,426.98 452.52,427.31 453.48,427.65 454.44,428.00 455.40,428.37 456.36,428.75 457.33,429.15 458.29,429.55 459.25,429.97 460.21,430.40 461.17,430.84 462.13,431.28 463.10,431.74 464.06,432.20 465.02,432.67 465.98,433.15 466.94,433.63 467.90,434.12 468.86,434.61 469.83,435.10 470.79,435.60 471.75,436.09 472.71,436.59 473.67,437.09 474.63,437.59 475.60,438.09 476.56,438.58 477.52,439.07 478.48,439.56 479.44,440.04 480.40,440.51 481.37,440.98 482.33,441.45 483.29,441.90 484.25,442.35 485.21,442.78 486.17,443.21 487.14,443.63 488.10,444.03 489.06,444.43 490.02,444.81 490.98,445.18 491.94,445.53 492.90,445.87 493.87,446.19 494.83,446.50 495.79,446.80 496.75,447.07 497.71,447.33 498.67,447.58 499.64,447.80 500.60,448.01 501.56,448.20 502.52,448.37 503.48,448.52 504.44,448.66 505.41,448.77 506.37,448.86 507.33,448.94 508.29,448.99 509.25,449.03 510.21,449.04 511.18,449.04 512.14,449.01 513.10,448.97 514.06,448.90 515.02,448.82 515.98,448.71 516.94,448.59 517.91,448.45 518.87,448.28 519.83,448.10 520.79,447.91 521.75,447.69 522.71,447.45 523.68,447.20 524.64,446.93 525.60,446.65 526.56,446.34 527.52,446.03 528.48,445.69 529.45,445.35 530.41,444.99 531.37,444.61 532.33,444.22 533.29,443.82 534.25,443.41 535.22,442.99 536.18,442.56 537.14,442.12 538.10,441.66" stroke="#c8420e"/><polyline points="57.30,442.93 58.26,444.26 59.22,445.24 60.18,445.97 61.15,446.53 62.11,446.96 63.07,447.30 64.03,447.57 64.99,447.78 65.95,447.94 66.92,448.06 67.88,448.14 68.84,448.18 69.80,448.19 70.76,448.17 71.72,448.12 72.69,448.03 73.65,447.91 74.61,447.76 75.57,447.59 76.53,447.38 77.49,447.15 78.46,446.88 79.42,446.59 80.38,446.28 81.34,445.94 82.30,445.58 83.26,445.20 84.22,444.79 85.19,444.37 86.15,443.92 87.11,443.47 88.07,442.99 89.03,442.51 89.99,442.01 90.96,441.50 91.92,440.98 92.88,440.45 93.84,439.92 94.80,439.38 95.76,438.84 96.73,438.29 97.69,437.75 98.65,437.20 99.61,436.66 100.57,436.12 101.53,435.58 102.50,435.05 103.46,434.52 104.42,434.00 105.38,433.48 106.34,432.97 107.30,432.47 108.26,431.98 109.23,431.50 110.19,431.02 111.15,430.56 112.11,430.11 113.07,429.66 114.03,429.23 115.00,428.82 115.96,428.41 116.92,428.02 117.88,427.63 118.84,427.27 119.80,426.91 120.77,426.57 121.73,426.24 122.69,425.92 123.65,425.62 124.61,425.33 125.57,425.06 126.54,424.80 127.50,424.55 128.46,424.32 129.42,424.11 130.38,423.90 131.34,423.72 132.30,423.55 133.27,423.39 134.23,423.25 135.19,423.12 136.15,423.01 137.11,422.92 138.07,422.84 139.04,422.77 140.00,422.72 140.96,422.69 141.92,422.67 142.88,422.66 143.84,422.68 144.81,422.70 145.77,422.75 146.73,422.80 147.69,422.87 148.65,422.96 149.61,423.06 150.58,423.18 151.54,423.31 152.50,423.45 153.46,423.61 154.42,423.78 155.38,423.96 156.34,424.16 157.31,424.37 158.27,424.59 159.23,424.82 160.19,425.07 161.15,425.32 162.11,425.59 163.08,425.86 164.04,426.15 165.00,426.44 165.96,426.75 166.92,427.06 167.88,427.38 168.85,427.71 169.81,428.04 170.77,428.38 171.73,428.73 172.69,429.08 173.65,429.44 174.62,429.80 175.58,430.16 176.54,430.52 177.50,430.89 178.46,431.26 179.42,431.63 180.38,432.00 181.35,432.38 182.31,432.75 183.27,433.12 184.23,433.48 185.19,433.85 186.15,434.21 187.12,434.57 188.08,434.92 189.04,435.27 190.00,435.62 190.96,435.95 191.92,436.29 192.89,436.61 193.85,436.93 194.81,437.24 195.77,437.54 196.73,437.83 197.69,438.11 198.66,438.38 199.62,438.65 200.58,438.90 201.54,439.14 202.50,439.37 203.46,439.58 204.42,439.79 205.39,439.98 206.35,440.16 207.31,440.32 208.27,440.48 209.23,440.62 210.19,440.74 211.16,440.85 212.12,440.95 213.08,441.03 214.04,441.10 215.00,441.15 215.96,441.19 216.93,441.21 217.89,441.22 218.85,441.21 219.81,441.19 220.77,441.16 221.73,441.11 222.70,441.04 223.66,440.96 224.62,440.87 225.58,440.76 226.54,440.64 227.50,440.50 228.46,440.35 229.43,440.19 230.39,440.01 231.35,439.82 232.31,439.62 233.27,439.40 234.23,439.17 235.20,438.94 236.16,438.69 237.12,438.43 238.08,438.15 239.04,437.87 240.00,437.58 240.97,437.28 241.93,436.98 242.89,436.66 243.85,436.34 244.81,436.01 245.77,435.67 246.74,435.33 247.70,434.98 248.66,434.63 249.62,434.27 250.58,433.91 251.54,433.54 252.50,433.17 253.47,432.81 254.43,432.44 255.39,432.06 256.35,431.69 257.31,431.32 258.27,430.95 259.24,430.58 260.20,430.22 261.16,429.85 262.12,429.49 263.08,429.14 264.04,428.78 265.01,428.44 265.97,428.10 266.93,427.76 267.89,427.43 268.85,427.11 269.81,426.80 270.78,426.49 271.74,426.20 272.70,425.91 273.66,425.63 274.62,425.36 275.58,425.11 276.54,424.86 277.51,424.62 278.47,424.40 279.43,424.19 280.39,423.99 281.35,423.81 282.31,423.63 283.28,423.47 284.24,423.33 285.20,423.19 286.16,423.07 287.12,422.97 288.08,422.88 289.05,422.80 290.01,422.74 290.97,422.70 291.93,422.67 292.89,422.65 293.85,422.65 294.82,422.66 295.78,422.69 296.74,422.73 297.70,422.79 298.66,422.86 299.62,422.95 300.58,423.05 301.55,423.16 302.51,423.29 303.47,423.44 304.43,423.59 305.39,423.76 306.35,423.95 307.32,424.14 308.28,424.35 309.24,424.57 310.20,424.80 311.16,425.05 312.12,425.30 313.09,425.57 314.05,425.84 315.01,426.13 315.97,426.42 316.93,426.72 317.89,427.04 318.86,427.36 319.82,427.68 320.78,428.02 321.74,428.36 322.70,428.70 323.66,429.05 324.62,429.41 325.59,429.77 326.55,430.13 327.51,430.49 328.47,430.86 329.43,431.23 330.39,431.60 331.36,431.98 332.32,432.35 333.28,432.72 334.24,433.09 335.20,433.45 336.16,433.82 337.13,434.18 338.09,434.54 339.05,434.89 340.01,435.24 340.97,435.59 341.93,435.93 342.90,436.26 343.86,436.58 344.82,436.90 345.78,437.21 346.74,437.51 347.70,437.81 348.66,438.09 349.63,438.36 350.59,438.62 351.55,438.88 352.51,439.12 353.47,439.35 354.43,439.57 355.40,439.77 356.36,439.96 357.32,440.14 358.28,440.31 359.24,440.46 360.20,440.60 361.17,440.73 362.13,440.84 363.09,440.94 364.05,441.02 365.01,441.09 365.97,441.15 366.94,441.19 367.90,441.21 368.86,441.22 369.82,441.22 370.78,441.20 371.74,441.16 372.70,441.11 373.67,441.05 374.63,440.97 375.59,440.88 376.55,440.77 377.51,440.65 378.47,440.51 379.44,440.36 380.40,440.20 381.36,440.02 382.32,439.83 383.28,439.63 384.24,439.42 385.21,439.19 386.17,438.96 387.13,438.71 388.09,438.45 389.05,438.18 390.01,437.90 390.98,437.61 391.94,437.31 392.90,437.00 393.86,436.69 394.82,436.36 395.78,436.03 396.74,435.70 397.71,435.35 398.67,435.01 399.63,434.65 400.59,434.30 401.55,433.94 402.51,433.57 403.48,433.20 404.44,432.83 405.40,432.46 406.36,432.09 407.32,431.72 408.28,431.35 409.25,430.98 410.21,430.61 411.17,430.25 412.13,429.88 413.09,429.52 414.05,429.16 415.02,428.81 415.98,428.46 416.94,428.12 417.90,427.79 418.86,427.46 419.82,427.14 420.78,426.82 421.75,426.52 422.71,426.22 423.67,425.93 424.63,425.65 425.59,425.38 426.55,425.13 427.52,424.88 428.48,424.64 429.44,424.42 430.40,424.21 431.36,424.01 432.32,423.82 433.29,423.65 434.25,423.48 435.21,423.34 436.17,423.20 437.13,423.08 438.09,422.98 439.06,422.89 440.02,422.81 440.98,422.75 441.94,422.70 442.90,422.67 443.86,422.65 444.82,422.65 445.79,422.66 446.75,422.69 447.71,422.73 448.67,422.78 449.63,422.85 450.59,422.94 451.56,423.04 452.52,423.15 453.48,423.28 454.44,423.42 455.40,423.58 456.36,423.75 457.33,423.93 458.29,424.13 459.25,424.33 460.21,424.55 461.17,424.78 462.13,425.03 463.10,425.28 464.06,425.54 465.02,425.82 465.98,426.10 466.94,426.40 467.90,426.70 468.86,427.01 469.83,427.33 470.79,427.66 471.75,427.99 472.71,428.33 473.67,428.67 474.63,429.02 475.60,429.38 476.56,429.74 477.52,430.10 478.48,430.47 479.44,430.83 480.40,431.20 481.37,431.57 482.33,431.95 483.29,432.32 484.25,432.69 485.21,433.06 486.17,433.42 487.14,433.79 488.10,434.15 489.06,434.51 490.02,434.87 490.98,435.22 491.94,435.56 492.90,435.90 493.87,436.23 494.83,436.56 495.79,436.88 496.75,437.19 497.71,437.49 498.67,437.78 499.64,438.07 500.60,438.34 501.56,438.60 502.52,438.86 503.48,439.10 504.44,439.33 505.41,439.55 506.37,439.76 507.33,439.95 508.29,440.13 509.25,440.30 510.21,440.45 511.18,440.59 512.14,440.72 513.10,440.83 514.06,440.93 515.02,441.02 515.98,441.09 516.94,441.14 517.91,441.18 518.87,441.21 519.83,441.22 520.79,441.22 521.75,441.20 522.71,441.16 523.68,441.12 524.64,441.05 525.60,440.98 526.56,440.88 527.52,440.78 528.48,440.66 529.45,440.52 530.41,440.37 531.37,440.21 532.33,440.04 533.29,439.85 534.25,439.65 535.22,439.44 536.18,439.21 537.14,438.97 538.10,438.73" stroke="#009020"/></g><path d="M57.30 618.90v-4.8M57.30 374.50v4.8M105.38 618.90v-4.8M105.38 374.50v4.8M153.46 618.90v-4.8M153.46 374.50v4.8M201.54 618.90v-4.8M201.54 374.50v4.8M249.62 618.90v-4.8M249.62 374.50v4.8M297.70 618.90v-4.8M297.70 374.50v4.8M345.78 618.90v-4.8M345.78 374.50v4.8M393.86 618.90v-4.8M393.86 374.50v4.8M441.94 618.90v-4.8M441.94 374.50v4.8M490.02 618.90v-4.8M490.02 374.50v4.8M538.10 618.90v-4.8M538.10 374.50v4.8M57.30 374.50h4.8M538.10 374.50h-4.8M57.30 423.38h4.8M538.10 423.38h-4.8M57.30 472.26h4.8M538.10 472.26h-4.8M57.30 521.14h4.8M538.10 521.14h-4.8M57.30 570.02h4.8M538.10 570.02h-4.8" stroke="#555" stroke-width="0.9" fill="none"/><rect x="57.30" y="374.50" width="480.80" height="244.40" stroke="#9a9a9a" stroke-width="1.1" fill="none"/><text class="tk" x="57.30" y="635.30" text-anchor="middle">0</text><text class="tk" x="105.38" y="635.30" text-anchor="middle">1</text><text class="tk" x="153.46" y="635.30" text-anchor="middle">2</text><text class="tk" x="201.54" y="635.30" text-anchor="middle">3</text><text class="tk" x="249.62" y="635.30" text-anchor="middle">4</text><text class="tk" x="297.70" y="635.30" text-anchor="middle">5</text><text class="tk" x="345.78" y="635.30" text-anchor="middle">6</text><text class="tk" x="393.86" y="635.30" text-anchor="middle">7</text><text class="tk" x="441.94" y="635.30" text-anchor="middle">8</text><text class="tk" x="490.02" y="635.30" text-anchor="middle">9</text><text class="tk" x="538.10" y="635.30" text-anchor="middle">10</text><text class="tk" x="52.30" y="379.10" text-anchor="end">2.4</text><text class="tk" x="52.30" y="427.98" text-anchor="end">2.2</text><text class="tk" x="52.30" y="476.86" text-anchor="end">2</text><text class="tk" x="52.30" y="525.74" text-anchor="end">1.8</text><text class="tk" x="52.30" y="574.62" text-anchor="end">1.6</text><text class="ttl" x="295.30" y="369.50" text-anchor="middle">Simulated and desired joint 3 trajectory</text><text class="lbl" x="298.60" y="656.00" text-anchor="middle">Time (s)</text><text class="lbl" transform="translate(28.40 496.80) rotate(-90)" text-anchor="middle">Joint 3 trajectory (rad)</text><text class="cap" x="270.00" y="690.50" text-anchor="middle">(<tspan font-weight="bold">c</tspan>)</text><path d="M227.60 423.50L238.50 494.40M249.40 423.50L294.50 494.40" stroke="#333" stroke-width="0.8" fill="none"/><rect x="227.60" y="423.50" width="21.80" height="31.30" stroke="#111" stroke-width="1.3" fill="none"/><defs><clipPath id="i2"><rect x="238.50" y="494.40" width="56.00" height="57.80"/></clipPath></defs><rect x="238.50" y="494.40" width="56.00" height="57.80" fill="#fff"/><path d="M249.70 494.40V552.20M272.10 494.40V552.20M238.50 523.30H294.50" stroke="#ececec" stroke-width="0.8" fill="none"/><g clip-path="url(#i2)" fill="none" stroke-width="1.60"><polyline points="236.26,539.96 237.27,539.61 238.28,539.25 239.28,538.89 240.29,538.51 241.30,538.14 242.31,537.75 243.32,537.36 244.32,536.96 245.33,536.55 246.34,536.14 247.35,535.72 248.36,535.29 249.36,534.86 250.37,534.42 251.38,533.97 252.39,533.52 253.40,533.07 254.40,532.61 255.41,532.14 256.42,531.67 257.43,531.19 258.44,530.71 259.44,530.22 260.45,529.73 261.46,529.23 262.47,528.73 263.48,528.23 264.48,527.72 265.49,527.21 266.50,526.69 267.51,526.17 268.52,525.65 269.52,525.13 270.53,524.60 271.54,524.07 272.55,523.53 273.56,523.00 274.56,522.46 275.57,521.92 276.58,521.38 277.59,520.83 278.60,520.29 279.60,519.74 280.61,519.19 281.62,518.64 282.63,518.09 283.64,517.54 284.64,516.99 285.65,516.44 286.66,515.89 287.67,515.34 288.68,514.79 289.68,514.24 290.69,513.69 291.70,513.14 292.71,512.59 293.72,512.04 294.72,511.50 295.73,510.95 296.74,510.41" stroke="#000" stroke-dasharray="4.5 3"/><polyline points="236.26,544.83 237.27,544.53 238.28,544.23 239.28,543.92 240.29,543.60 241.30,543.28 242.31,542.95 243.32,542.62 244.32,542.28 245.33,541.94 246.34,541.59 247.35,541.23 248.36,540.88 249.36,540.51 250.37,540.14 251.38,539.77 252.39,539.39 253.40,539.00 254.40,538.62 255.41,538.22 256.42,537.83 257.43,537.43 258.44,537.02 259.44,536.61 260.45,536.20 261.46,535.79 262.47,535.37 263.48,534.94 264.48,534.52 265.49,534.09 266.50,533.66 267.51,533.23 268.52,532.79 269.52,532.35 270.53,531.91 271.54,531.47 272.55,531.02 273.56,530.57 274.56,530.13 275.57,529.68 276.58,529.22 277.59,528.77 278.60,528.32 279.60,527.86 280.61,527.41 281.62,526.95 282.63,526.49 283.64,526.03 284.64,525.58 285.65,525.12 286.66,524.66 287.67,524.20 288.68,523.75 289.68,523.29 290.69,522.83 291.70,522.38 292.71,521.92 293.72,521.47 294.72,521.02 295.73,520.57 296.74,520.12" stroke="#0000ff"/><polyline points="236.26,532.15 237.27,531.80 238.28,531.45 239.28,531.08 240.29,530.71 241.30,530.33 242.31,529.95 243.32,529.55 244.32,529.15 245.33,528.75 246.34,528.33 247.35,527.91 248.36,527.49 249.36,527.05 250.37,526.62 251.38,526.17 252.39,525.72 253.40,525.26 254.40,524.80 255.41,524.34 256.42,523.86 257.43,523.39 258.44,522.90 259.44,522.42 260.45,521.93 261.46,521.43 262.47,520.93 263.48,520.43 264.48,519.92 265.49,519.41 266.50,518.89 267.51,518.37 268.52,517.85 269.52,517.32 270.53,516.80 271.54,516.27 272.55,515.73 273.56,515.20 274.56,514.66 275.57,514.12 276.58,513.57 277.59,513.03 278.60,512.49 279.60,511.94 280.61,511.39 281.62,510.84 282.63,510.29 283.64,509.74 284.64,509.19 285.65,508.64 286.66,508.09 287.67,507.54 288.68,506.99 289.68,506.43 290.69,505.88 291.70,505.34 292.71,504.79 293.72,504.24 294.72,503.69 295.73,503.15 296.74,502.61" stroke="#ffb000"/><polyline points="236.26,548.59 237.27,548.26 238.28,547.91 239.28,547.56 240.29,547.20 241.30,546.84 242.31,546.47 243.32,546.09 244.32,545.70 245.33,545.31 246.34,544.92 247.35,544.51 248.36,544.10 249.36,543.69 250.37,543.26 251.38,542.84 252.39,542.40 253.40,541.96 254.40,541.52 255.41,541.07 256.42,540.62 257.43,540.16 258.44,539.69 259.44,539.22 260.45,538.75 261.46,538.27 262.47,537.79 263.48,537.31 264.48,536.82 265.49,536.33 266.50,535.83 267.51,535.33 268.52,534.83 269.52,534.32 270.53,533.81 271.54,533.30 272.55,532.79 273.56,532.27 274.56,531.76 275.57,531.24 276.58,530.71 277.59,530.19 278.60,529.67 279.60,529.14 280.61,528.61 281.62,528.08 282.63,527.56 283.64,527.03 284.64,526.50 285.65,525.97 286.66,525.43 287.67,524.90 288.68,524.37 289.68,523.84 290.69,523.31 291.70,522.79 292.71,522.26 293.72,521.73 294.72,521.21 295.73,520.68 296.74,520.16" stroke="#c8420e"/><polyline points="236.26,535.76 237.27,535.65 238.28,535.53 239.28,535.40 240.29,535.27 241.30,535.13 242.31,534.99 243.32,534.84 244.32,534.68 245.33,534.51 246.34,534.34 247.35,534.16 248.36,533.98 249.36,533.79 250.37,533.59 251.38,533.39 252.39,533.18 253.40,532.97 254.40,532.75 255.41,532.52 256.42,532.29 257.43,532.05 258.44,531.81 259.44,531.56 260.45,531.30 261.46,531.04 262.47,530.78 263.48,530.51 264.48,530.23 265.49,529.95 266.50,529.67 267.51,529.37 268.52,529.08 269.52,528.78 270.53,528.47 271.54,528.17 272.55,527.85 273.56,527.53 274.56,527.21 275.57,526.89 276.58,526.56 277.59,526.22 278.60,525.88 279.60,525.54 280.61,525.20 281.62,524.85 282.63,524.50 283.64,524.14 284.64,523.79 285.65,523.42 286.66,523.06 287.67,522.69 288.68,522.33 289.68,521.95 290.69,521.58 291.70,521.20 292.71,520.83 293.72,520.45 294.72,520.06 295.73,519.68 296.74,519.29" stroke="#009020"/></g><rect x="238.50" y="494.40" width="56.00" height="57.80" stroke="#8c8c8c" stroke-width="1" fill="none"/><path d="" stroke="#666" stroke-width="0.8" fill="none"/><text class="tkss" x="235.50" y="497.00" text-anchor="end">2.2</text><text class="tkss" x="235.50" y="525.90" text-anchor="end">2.15</text><text class="tkss" x="235.50" y="554.80" text-anchor="end">2.1</text><text class="tkss" x="249.70" y="562.50" text-anchor="middle">3.6</text><text class="tkss" x="272.10" y="562.50" text-anchor="middle">3.8</text><text class="tkss" x="294.50" y="562.50" text-anchor="middle">4</text><rect x="456.90" y="535.40" width="64.50" height="70.90" stroke="#8c8c8c" stroke-width="1" fill="#fff"/><path d="M460.00 543.20H489.10" stroke="#000" stroke-width="1.7" stroke-dasharray="5.8 5.7"/><text class="lg" x="491.90" y="544.80">q<tspan class="lgs" dy="3.5">3Ref</tspan></text><path d="M460.00 557.00H489.10" stroke="#0000ff" stroke-width="1.7"/><text class="lg" x="491.90" y="558.60">q<tspan class="lgs" dy="3.5">3Fuzzy</tspan></text><path d="M460.00 570.70H489.10" stroke="#ffb000" stroke-width="1.7"/><text class="lg" x="491.90" y="572.30">q<tspan class="lgs" dy="3.5">3ANFIS</tspan></text><path d="M460.00 584.30H489.10" stroke="#c8420e" stroke-width="1.7"/><text class="lg" x="491.90" y="585.90">q<tspan class="lgs" dy="3.5">3SPID</tspan></text><path d="M460.00 598.00H489.10" stroke="#009020" stroke-width="1.7"/><text class="lg" x="491.90" y="599.60">q<tspan class="lgs" dy="3.5">3PID</tspan></text></svg></body></html>
